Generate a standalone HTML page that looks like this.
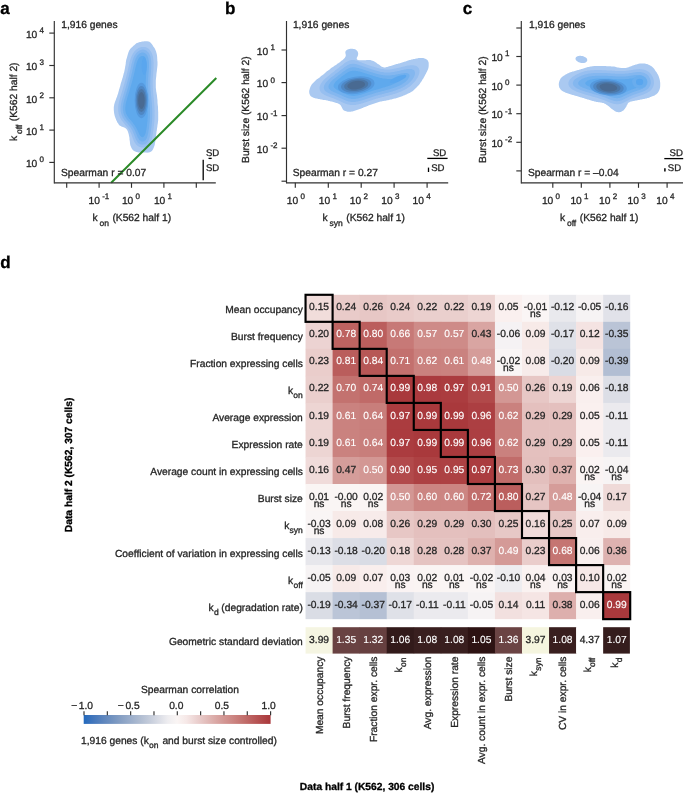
<!DOCTYPE html>
<html lang="en"><head><meta charset="utf-8"><title>Figure</title>
<style>html,body{margin:0;padding:0;background:#fff}svg{display:block;text-rendering:geometricPrecision}text{stroke-width:.3px}text[fill="#fff"]{stroke-width:.14px}</style></head>
<body>
<svg width="685" height="794" viewBox="0 0 685 794" font-family='"Liberation Sans", sans-serif'>
<rect width="685" height="794" fill="#fff"/>
<defs><filter id="bl" x="-5%" y="-5%" width="110%" height="110%"><feGaussianBlur stdDeviation="0.55"/></filter></defs>
<text x="0.20" y="14.00" font-size="17" text-anchor="start" fill="#000" stroke="#000" font-weight="bold">a</text>
<text x="224.90" y="14.00" font-size="17" text-anchor="start" fill="#000" stroke="#000" font-weight="bold">b</text>
<text x="462.80" y="13.80" font-size="17" text-anchor="start" fill="#000" stroke="#000" font-weight="bold">c</text>
<text x="0.20" y="268.20" font-size="17" text-anchor="start" fill="#000" stroke="#000" font-weight="bold">d</text>
<g filter="url(#bl)"><path d="M143.4,41.4 144.4,41.3 145.4,41.3 146.4,41.3 147.4,41.3 148.1,41.4 149.1,41.6 149.6,41.9 150.4,42.4 150.9,42.9 151.3,43.4 151.7,43.9 152.1,44.5 152.5,45.1 152.9,45.7 153.3,46.4 153.7,46.9 154.1,47.6 154.5,48.1 154.9,48.8 155.2,49.4 155.5,50.1 155.8,50.9 156.1,51.6 156.3,52.4 156.5,53.1 156.7,53.9 156.9,54.8 157.0,55.6 157.1,56.4 157.2,57.4 157.2,58.4 157.3,59.4 157.3,60.4 157.4,61.1 157.5,62.1 157.5,63.1 157.5,64.1 157.5,65.1 157.4,66.0 157.3,66.9 157.2,67.9 157.1,68.6 157.0,69.6 156.9,70.4 156.8,71.4 156.6,72.4 156.6,73.1 156.4,74.1 156.4,74.9 156.3,75.9 156.2,76.9 156.1,77.6 156.0,78.6 155.9,79.5 155.8,80.4 155.8,81.4 155.8,82.4 155.8,83.4 155.8,84.4 155.8,85.4 155.8,86.4 155.8,87.4 155.9,88.4 156.0,89.1 156.1,90.1 156.2,90.9 156.3,91.9 156.5,92.6 156.6,93.4 156.8,94.4 156.9,95.1 157.0,96.1 157.1,97.1 157.2,97.9 157.3,98.9 157.4,99.6 157.5,100.6 157.5,101.6 157.5,102.6 157.6,103.6 157.7,104.4 157.8,105.4 157.9,106.1 158.0,107.1 158.0,108.1 158.0,109.1 158.1,110.1 158.1,110.9 158.2,111.9 158.2,112.9 158.2,113.9 158.2,114.9 158.2,115.9 158.2,116.9 158.2,117.9 158.2,118.9 158.2,119.9 158.1,120.9 158.0,121.6 157.9,122.6 157.8,123.4 157.6,124.4 157.5,125.1 157.4,126.1 157.3,126.9 157.1,127.9 157.0,128.6 156.9,129.6 156.8,130.4 156.6,131.3 156.5,132.1 156.4,133.0 156.3,133.9 156.1,134.8 156.0,135.6 156.0,136.6 155.9,137.6 155.8,138.4 155.6,139.4 155.5,140.1 155.4,141.0 155.2,141.9 155.1,142.6 154.9,143.6 154.8,144.4 154.6,145.1 154.4,145.9 154.1,146.6 153.8,147.4 153.5,148.1 153.2,148.9 152.9,149.6 152.5,150.1 152.1,150.7 151.6,151.2 151.0,151.6 150.4,152.0 149.6,152.3 148.9,152.5 147.9,152.6 147.1,152.7 146.1,152.6 145.4,152.6 144.4,152.5 143.4,152.5 142.4,152.5 141.4,152.5 140.4,152.5 139.4,152.5 138.4,152.4 137.6,152.2 136.9,152.1 136.1,151.9 135.4,151.6 134.6,151.2 134.1,150.9 133.4,150.4 132.9,149.9 132.4,149.4 132.1,148.9 131.6,148.2 131.3,147.6 131.0,146.9 130.7,146.1 130.4,145.4 130.2,144.6 130.1,143.9 130.0,142.9 129.9,141.9 129.8,141.1 129.6,140.1 129.5,139.4 129.5,138.4 129.4,137.6 129.2,136.6 129.0,135.9 128.9,135.1 128.6,134.1 128.5,133.4 128.2,132.6 128.0,131.9 127.7,131.1 127.4,130.4 127.1,129.9 126.6,129.3 126.1,128.7 125.6,128.3 125.0,127.9 124.4,127.6 123.6,127.3 122.9,127.0 122.1,126.7 121.4,126.4 120.7,126.1 120.1,125.8 119.6,125.4 119.1,124.9 118.6,124.3 118.2,123.6 117.8,123.1 117.4,122.4 117.1,121.9 116.8,121.1 116.4,120.4 116.1,119.7 115.9,119.1 115.6,118.4 115.3,117.6 115.0,116.9 114.8,116.1 114.6,115.4 114.4,114.5 114.2,113.6 114.1,112.9 114.0,111.9 113.9,110.9 113.8,110.1 113.8,109.1 113.8,108.1 113.8,107.1 113.9,106.4 114.1,105.4 114.2,104.6 114.4,103.9 114.6,103.0 114.9,102.2 115.1,101.6 115.4,100.9 115.7,100.1 116.0,99.4 116.2,98.6 116.5,97.9 116.8,97.1 117.1,96.4 117.3,95.6 117.6,94.9 117.8,94.1 118.1,93.4 118.3,92.6 118.5,91.9 118.7,91.1 118.9,90.4 119.1,89.5 119.4,88.8 119.6,88.0 119.9,87.1 120.1,86.4 120.3,85.6 120.5,84.9 120.6,84.1 120.9,83.3 121.1,82.5 121.4,81.7 121.6,80.9 121.9,80.1 122.1,79.4 122.3,78.6 122.6,77.9 122.8,77.1 123.0,76.4 123.2,75.6 123.4,74.8 123.6,73.9 123.8,73.1 124.1,72.4 124.3,71.6 124.4,70.9 124.6,69.9 124.8,69.1 124.9,68.4 125.1,67.4 125.2,66.6 125.4,65.7 125.5,64.9 125.7,64.1 125.8,63.1 125.8,62.1 126.0,61.4 126.1,60.5 126.3,59.6 126.5,58.9 126.8,58.1 127.0,57.4 127.2,56.6 127.4,55.9 127.6,55.0 127.9,54.2 128.1,53.4 128.4,52.6 128.6,51.9 128.9,51.3 129.2,50.6 129.6,49.9 129.9,49.4 130.4,48.8 130.9,48.3 131.4,47.8 131.9,47.3 132.4,46.9 132.9,46.3 133.4,45.8 133.9,45.4 134.5,44.9 135.0,44.4 135.6,43.9 136.1,43.5 136.8,43.1 137.4,42.9 138.1,42.6 138.9,42.4 139.7,42.1 140.6,41.9 141.4,41.7 142.1,41.6Z" fill="#aac9f1"/>
<path d="M142.7,46.9 143.6,46.9 144.4,46.9 145.3,47.1 146.1,47.4 146.7,47.6 147.4,48.0 148.0,48.4 148.6,48.8 149.1,49.3 149.6,49.8 150.1,50.4 150.5,50.9 150.9,51.5 151.2,52.1 151.6,52.9 151.9,53.4 152.1,54.1 152.4,54.9 152.6,55.6 152.9,56.6 153.1,57.4 153.2,58.1 153.3,59.1 153.4,59.9 153.5,60.9 153.6,61.9 153.6,62.7 153.6,63.6 153.6,64.6 153.6,65.6 153.6,66.4 153.6,67.4 153.5,68.4 153.5,69.4 153.4,70.4 153.3,71.1 153.3,72.1 153.2,73.1 153.1,74.0 153.1,74.9 153.0,75.9 152.9,76.9 152.9,77.6 152.8,78.6 152.8,79.6 152.7,80.6 152.7,81.6 152.7,82.6 152.7,83.6 152.7,84.6 152.7,85.6 152.8,86.6 152.8,87.6 152.9,88.6 152.9,89.4 153.0,90.4 153.1,91.4 153.1,92.1 153.2,93.1 153.3,94.1 153.4,94.9 153.5,95.9 153.6,96.9 153.7,97.6 153.8,98.6 153.8,99.6 153.9,100.4 154.0,101.4 154.1,102.4 154.2,103.1 154.2,104.1 154.3,105.1 154.4,106.1 154.4,106.9 154.5,107.9 154.5,108.9 154.6,109.9 154.6,110.9 154.6,111.9 154.6,112.6 154.6,113.6 154.6,114.6 154.6,115.6 154.6,116.4 154.6,117.4 154.5,118.4 154.5,119.4 154.4,120.4 154.4,121.2 154.3,122.1 154.2,123.1 154.1,124.0 154.0,124.9 153.9,125.9 153.8,126.6 153.7,127.6 153.6,128.4 153.5,129.4 153.4,130.2 153.2,131.1 153.1,132.0 153.0,132.9 152.9,133.6 152.7,134.6 152.6,135.4 152.4,136.4 152.2,137.1 152.1,137.9 151.9,138.6 151.6,139.5 151.4,140.2 151.1,140.9 150.8,141.6 150.5,142.4 150.1,143.0 149.8,143.6 149.4,144.2 148.9,144.8 148.4,145.3 147.9,145.7 147.3,146.1 146.6,146.6 146.0,146.9 145.3,147.1 144.4,147.4 143.6,147.5 142.6,147.5 141.6,147.5 140.9,147.3 140.1,147.1 139.4,146.9 138.6,146.5 138.0,146.1 137.4,145.7 136.9,145.3 136.4,144.8 135.9,144.2 135.4,143.6 135.1,143.1 134.6,142.4 134.3,141.9 134.0,141.1 133.6,140.4 133.4,139.8 133.1,139.1 132.8,138.4 132.6,137.6 132.3,136.9 132.0,136.1 131.8,135.4 131.5,134.6 131.2,133.9 130.9,133.2 130.6,132.6 130.2,131.9 129.9,131.2 129.6,130.6 129.1,129.9 128.8,129.4 128.4,128.7 127.9,128.1 127.6,127.6 127.1,127.0 126.6,126.4 126.2,125.9 125.7,125.4 125.3,124.9 124.9,124.4 124.4,123.8 123.9,123.2 123.4,122.6 123.0,122.1 122.6,121.6 122.1,121.0 121.7,120.4 121.4,119.9 120.9,119.1 120.6,118.6 120.2,117.9 119.9,117.2 119.6,116.6 119.4,115.9 119.1,115.1 118.9,114.4 118.6,113.4 118.5,112.6 118.4,111.9 118.2,110.9 118.2,109.9 118.2,108.9 118.2,107.9 118.2,106.9 118.3,105.9 118.4,105.1 118.6,104.1 118.7,103.4 118.9,102.6 119.1,101.6 119.3,100.9 119.5,100.1 119.7,99.4 119.9,98.6 120.1,97.8 120.4,97.0 120.6,96.1 120.9,95.4 121.1,94.6 121.3,93.9 121.5,93.1 121.8,92.4 122.0,91.6 122.2,90.9 122.4,90.1 122.7,89.4 122.9,88.6 123.1,87.8 123.4,87.0 123.6,86.1 123.8,85.4 124.1,84.6 124.3,83.9 124.5,83.1 124.7,82.4 124.9,81.6 125.1,80.9 125.4,79.9 125.6,79.1 125.8,78.4 126.0,77.6 126.2,76.9 126.4,76.1 126.6,75.2 126.8,74.4 127.0,73.6 127.2,72.9 127.4,72.1 127.6,71.1 127.8,70.4 127.9,69.6 128.1,68.7 128.3,67.9 128.5,67.1 128.6,66.4 128.9,65.4 129.0,64.6 129.2,63.9 129.4,63.1 129.6,62.1 129.8,61.4 130.0,60.6 130.2,59.9 130.5,59.1 130.7,58.4 131.0,57.6 131.3,56.9 131.6,56.1 131.9,55.5 132.2,54.9 132.6,54.1 132.9,53.6 133.4,52.9 133.7,52.4 134.1,51.8 134.6,51.2 135.1,50.7 135.6,50.2 136.1,49.7 136.6,49.3 137.2,48.9 137.9,48.4 138.4,48.1 139.1,47.8 139.9,47.5 140.6,47.2 141.4,47.0Z" fill="#97bff0"/>
<path d="M142.6,49.6 143.3,49.6 144.1,49.7 144.9,49.9 145.6,50.2 146.4,50.6 146.9,50.9 147.4,51.4 147.9,51.9 148.4,52.4 148.9,53.1 149.2,53.6 149.5,54.4 149.9,55.1 150.1,55.8 150.4,56.6 150.6,57.4 150.7,58.1 150.9,58.9 151.0,59.9 151.1,60.8 151.2,61.6 151.2,62.6 151.3,63.6 151.3,64.6 151.3,65.6 151.2,66.6 151.2,67.6 151.2,68.6 151.1,69.4 151.0,70.4 151.0,71.4 150.9,72.4 150.8,73.1 150.8,74.1 150.7,75.1 150.6,75.9 150.6,76.9 150.5,77.9 150.4,78.9 150.4,79.9 150.4,80.8 150.4,81.6 150.3,82.6 150.3,83.6 150.3,84.6 150.4,85.6 150.4,86.4 150.4,87.4 150.5,88.4 150.5,89.4 150.6,90.4 150.7,91.1 150.8,92.1 150.9,93.1 150.9,93.9 151.0,94.9 151.1,95.9 151.2,96.6 151.3,97.6 151.4,98.5 151.5,99.4 151.6,100.4 151.6,101.1 151.7,102.1 151.8,103.1 151.9,104.1 151.9,104.9 152.0,105.9 152.1,106.9 152.1,107.9 152.2,108.6 152.2,109.6 152.2,110.6 152.3,111.6 152.3,112.6 152.3,113.6 152.3,114.6 152.3,115.6 152.3,116.6 152.2,117.6 152.2,118.6 152.1,119.6 152.1,120.4 152.0,121.4 151.9,122.4 151.8,123.1 151.7,124.1 151.6,125.1 151.6,125.9 151.4,126.9 151.3,127.6 151.2,128.6 151.1,129.4 151.0,130.4 150.9,131.1 150.7,132.1 150.6,132.9 150.4,133.9 150.3,134.6 150.1,135.4 149.9,136.4 149.7,137.1 149.5,137.9 149.3,138.6 149.0,139.4 148.7,140.1 148.4,140.8 148.0,141.4 147.6,142.0 147.1,142.6 146.6,143.1 146.1,143.5 145.6,143.9 144.9,144.2 144.1,144.5 143.4,144.6 142.4,144.7 141.6,144.6 140.8,144.4 140.1,144.1 139.4,143.7 138.9,143.4 138.3,142.9 137.8,142.4 137.4,141.8 136.9,141.1 136.6,140.6 136.2,139.9 135.9,139.3 135.6,138.6 135.3,137.9 135.0,137.1 134.7,136.4 134.4,135.6 134.1,134.9 133.9,134.2 133.6,133.5 133.3,132.9 133.0,132.1 132.7,131.4 132.4,130.8 132.1,130.1 131.6,129.4 131.3,128.9 130.9,128.1 130.5,127.6 130.1,127.0 129.6,126.4 129.3,125.9 128.9,125.4 128.4,124.8 127.9,124.2 127.4,123.6 127.0,123.1 126.5,122.6 126.1,122.1 125.6,121.6 125.1,120.9 124.7,120.4 124.3,119.9 123.9,119.3 123.4,118.6 123.1,118.1 122.7,117.4 122.4,116.8 122.1,116.1 121.8,115.4 121.5,114.6 121.3,113.9 121.1,113.1 120.9,112.3 120.7,111.4 120.6,110.4 120.6,109.6 120.6,108.6 120.6,107.6 120.6,106.9 120.7,105.9 120.9,104.9 121.0,104.1 121.1,103.4 121.4,102.4 121.5,101.6 121.7,100.9 121.9,100.1 122.1,99.4 122.4,98.5 122.6,97.7 122.9,96.9 123.1,96.1 123.3,95.4 123.5,94.6 123.8,93.9 124.0,93.1 124.2,92.4 124.4,91.6 124.7,90.9 124.9,90.1 125.1,89.4 125.4,88.5 125.6,87.7 125.9,86.9 126.1,86.1 126.3,85.4 126.5,84.6 126.7,83.9 126.9,83.1 127.1,82.4 127.4,81.5 127.6,80.6 127.8,79.9 128.0,79.1 128.2,78.4 128.4,77.6 128.6,76.9 128.9,75.9 129.1,75.1 129.3,74.4 129.4,73.6 129.6,72.8 129.8,71.9 130.0,71.1 130.2,70.4 130.4,69.5 130.6,68.6 130.7,67.9 130.9,67.1 131.1,66.1 131.3,65.4 131.4,64.6 131.6,63.8 131.9,62.9 132.1,62.1 132.3,61.4 132.5,60.6 132.7,59.9 133.0,59.1 133.3,58.4 133.6,57.6 133.9,56.9 134.1,56.4 134.5,55.6 134.9,55.0 135.3,54.4 135.7,53.9 136.1,53.3 136.6,52.7 137.1,52.2 137.6,51.8 138.1,51.4 138.8,50.9 139.4,50.6 140.1,50.2 140.9,49.9 141.6,49.8Z" fill="#84b7ef"/>
<path d="M141.6,52.6 142.4,52.5 143.4,52.5 144.1,52.7 144.9,53.0 145.4,53.4 146.0,53.9 146.5,54.4 146.9,54.9 147.3,55.6 147.6,56.2 147.9,56.9 148.1,57.6 148.4,58.5 148.6,59.4 148.7,60.1 148.8,61.1 148.9,61.9 148.9,62.9 149.0,63.9 149.0,64.9 149.0,65.9 149.0,66.9 148.9,67.9 148.9,68.6 148.8,69.6 148.7,70.6 148.7,71.6 148.6,72.4 148.5,73.4 148.5,74.4 148.4,75.4 148.3,76.1 148.3,77.1 148.2,78.1 148.2,79.1 148.1,80.1 148.1,80.9 148.1,81.9 148.1,82.9 148.1,83.9 148.1,84.9 148.1,85.9 148.1,86.6 148.2,87.6 148.2,88.6 148.3,89.6 148.4,90.6 148.4,91.4 148.5,92.4 148.6,93.4 148.7,94.1 148.8,95.1 148.9,96.1 148.9,96.9 149.0,97.9 149.1,98.8 149.2,99.6 149.3,100.6 149.4,101.4 149.5,102.4 149.5,103.4 149.6,104.4 149.7,105.1 149.7,106.1 149.8,107.1 149.9,108.1 149.9,108.9 149.9,109.9 150.0,110.9 150.0,111.9 150.0,112.9 150.0,113.9 150.0,114.9 150.0,115.9 150.0,116.9 149.9,117.9 149.9,118.9 149.8,119.6 149.8,120.6 149.7,121.6 149.6,122.5 149.5,123.4 149.4,124.4 149.3,125.1 149.2,126.1 149.1,127.0 149.0,127.9 148.9,128.8 148.8,129.6 148.6,130.5 148.5,131.4 148.4,132.1 148.2,133.1 148.0,133.9 147.9,134.6 147.6,135.6 147.4,136.4 147.2,137.1 146.9,137.9 146.6,138.4 146.2,139.1 145.9,139.6 145.4,140.2 144.9,140.7 144.2,141.1 143.5,141.4 142.6,141.5 141.6,141.4 140.9,141.1 140.4,140.8 139.8,140.4 139.3,139.9 138.9,139.3 138.4,138.6 138.1,138.1 137.7,137.4 137.4,136.6 137.1,136.0 136.9,135.4 136.6,134.6 136.3,133.9 136.0,133.1 135.7,132.4 135.4,131.7 135.1,131.1 134.8,130.4 134.4,129.6 134.1,129.1 133.7,128.4 133.4,127.7 133.0,127.1 132.6,126.6 132.2,125.9 131.8,125.4 131.4,124.8 130.9,124.2 130.4,123.6 130.0,123.1 129.6,122.6 129.1,122.1 128.6,121.5 128.1,120.9 127.7,120.4 127.2,119.9 126.8,119.4 126.4,118.8 125.9,118.1 125.6,117.6 125.1,116.9 124.8,116.4 124.4,115.6 124.1,114.9 123.9,114.3 123.6,113.6 123.4,112.7 123.2,111.9 123.1,111.1 122.9,110.1 122.9,109.1 122.9,108.1 122.9,107.1 123.0,106.1 123.1,105.4 123.3,104.4 123.4,103.6 123.6,102.7 123.8,101.9 124.0,101.1 124.2,100.4 124.4,99.6 124.6,98.9 124.9,98.1 125.1,97.2 125.4,96.4 125.6,95.6 125.8,94.9 126.1,94.1 126.3,93.4 126.5,92.6 126.7,91.9 127.0,91.1 127.2,90.4 127.4,89.6 127.6,88.9 127.9,88.0 128.1,87.2 128.4,86.4 128.6,85.6 128.8,84.9 129.0,84.1 129.2,83.4 129.4,82.6 129.6,81.9 129.9,81.0 130.1,80.1 130.3,79.4 130.5,78.6 130.7,77.9 130.9,77.1 131.1,76.3 131.3,75.4 131.5,74.6 131.7,73.9 131.9,73.1 132.1,72.1 132.3,71.4 132.4,70.6 132.6,69.8 132.8,68.9 133.0,68.1 133.2,67.4 133.4,66.4 133.6,65.6 133.7,64.9 133.9,64.1 134.1,63.3 134.4,62.4 134.6,61.6 134.8,60.9 135.1,60.1 135.4,59.4 135.6,58.8 135.9,58.1 136.3,57.4 136.6,56.8 137.1,56.1 137.4,55.6 137.9,55.1 138.4,54.5 138.9,54.1 139.4,53.6 140.1,53.2 140.8,52.9Z" fill="#71b0ee"/>
<path d="M142.2,55.9 142.9,55.9 143.6,56.1 144.3,56.6 144.8,57.1 145.2,57.6 145.5,58.4 145.8,59.1 146.1,59.9 146.2,60.6 146.4,61.4 146.5,62.4 146.6,63.4 146.6,64.4 146.6,65.4 146.6,66.4 146.6,67.4 146.5,68.4 146.5,69.4 146.4,70.4 146.4,71.1 146.3,72.1 146.2,73.1 146.1,74.1 146.1,74.9 146.0,75.9 146.0,76.9 145.9,77.9 145.9,78.6 145.8,79.6 145.8,80.6 145.8,81.6 145.7,82.6 145.7,83.6 145.8,84.6 145.8,85.6 145.8,86.6 145.9,87.6 145.9,88.4 146.0,89.4 146.0,90.4 146.1,91.4 146.2,92.1 146.3,93.1 146.3,94.1 146.4,94.9 146.5,95.9 146.6,96.9 146.7,97.6 146.8,98.6 146.9,99.4 147.0,100.4 147.1,101.4 147.1,102.2 147.2,103.1 147.3,104.1 147.4,105.1 147.4,105.9 147.5,106.9 147.5,107.9 147.6,108.9 147.6,109.8 147.7,110.6 147.7,111.6 147.7,112.6 147.7,113.6 147.7,114.6 147.7,115.6 147.7,116.6 147.6,117.6 147.6,118.4 147.5,119.4 147.5,120.4 147.4,121.4 147.3,122.1 147.2,123.1 147.1,124.0 147.0,124.9 146.9,125.9 146.8,126.6 146.6,127.6 146.5,128.4 146.4,129.2 146.2,130.1 146.1,130.9 145.9,131.8 145.7,132.6 145.5,133.4 145.2,134.1 144.9,134.9 144.6,135.5 144.2,136.1 143.8,136.6 143.1,137.1 142.4,137.2 141.6,137.0 141.0,136.6 140.5,136.1 140.1,135.6 139.6,134.9 139.4,134.4 139.0,133.6 138.6,132.9 138.4,132.3 138.1,131.6 137.7,130.9 137.4,130.1 137.1,129.6 136.8,128.9 136.4,128.2 136.1,127.6 135.6,126.9 135.3,126.4 134.9,125.6 134.5,125.1 134.1,124.6 133.6,123.9 133.2,123.4 132.9,122.9 132.4,122.3 131.9,121.7 131.4,121.1 131.0,120.6 130.5,120.1 130.1,119.6 129.6,119.1 129.1,118.4 128.7,117.9 128.3,117.4 127.9,116.8 127.5,116.1 127.1,115.6 126.8,114.9 126.4,114.1 126.1,113.4 125.9,112.7 125.6,111.9 125.5,111.1 125.4,110.4 125.3,109.4 125.3,108.4 125.3,107.4 125.4,106.4 125.5,105.6 125.6,104.6 125.8,103.9 125.9,103.1 126.1,102.2 126.3,101.4 126.5,100.6 126.8,99.9 127.0,99.1 127.2,98.4 127.4,97.6 127.6,96.9 127.9,96.1 128.1,95.3 128.4,94.4 128.6,93.6 128.8,92.9 129.1,92.1 129.3,91.4 129.5,90.6 129.7,89.9 130.0,89.1 130.2,88.4 130.4,87.6 130.6,86.8 130.9,86.0 131.1,85.1 131.3,84.4 131.5,83.6 131.8,82.9 132.0,82.1 132.2,81.4 132.4,80.6 132.6,79.7 132.9,78.9 133.0,78.1 133.2,77.4 133.4,76.6 133.6,75.8 133.9,74.9 134.0,74.1 134.2,73.4 134.4,72.6 134.6,71.6 134.8,70.9 135.0,70.1 135.1,69.3 135.3,68.4 135.5,67.6 135.7,66.9 135.9,66.0 136.1,65.1 136.3,64.4 136.5,63.6 136.7,62.9 137.0,62.1 137.2,61.4 137.5,60.6 137.9,59.9 138.1,59.4 138.6,58.6 138.9,58.1 139.4,57.5 139.9,57.0 140.4,56.6 141.1,56.2Z" fill="#5fa9ed"/>
<ellipse cx="144.2" cy="66.0" rx="2.6" ry="9.0" transform="rotate(0 144.2 66.0)" fill="#5aa6ee"/>
<ellipse cx="141.4" cy="100.5" rx="6.76" ry="17.63" transform="rotate(0 141.4 100.5)" fill="#5499de"/>
<ellipse cx="141.4" cy="100.5" rx="5.61" ry="14.62" transform="rotate(0 141.4 100.5)" fill="#4f87c4"/>
<ellipse cx="141.4" cy="100.5" rx="4.46" ry="11.61" transform="rotate(0 141.4 100.5)" fill="#4c77a8"/>
<ellipse cx="141.4" cy="100.5" rx="3.30" ry="8.60" transform="rotate(0 141.4 100.5)" fill="#4a6b92"/></g>
<line x1="111.2" y1="182.8" x2="216.3" y2="78.0" stroke="#2a8a27" stroke-width="2"/>
<line x1="54.30" y1="21.00" x2="54.30" y2="183.40" stroke="#303030" stroke-width="1.15" stroke-linecap="butt"/>
<line x1="54.30" y1="182.80" x2="215.80" y2="182.80" stroke="#303030" stroke-width="1.15" stroke-linecap="butt"/>
<line x1="49.30" y1="33.10" x2="54.30" y2="33.10" stroke="#303030" stroke-width="1.15" stroke-linecap="butt"/>
<text x="25.90" y="37.80" font-size="10.25" fill="#262626" stroke="#262626">10<tspan font-size="8" dx="2.3" dy="-4.8">4</tspan></text>
<line x1="49.30" y1="65.50" x2="54.30" y2="65.50" stroke="#303030" stroke-width="1.15" stroke-linecap="butt"/>
<text x="25.90" y="70.20" font-size="10.25" fill="#262626" stroke="#262626">10<tspan font-size="8" dx="2.3" dy="-4.8">3</tspan></text>
<line x1="49.30" y1="97.80" x2="54.30" y2="97.80" stroke="#303030" stroke-width="1.15" stroke-linecap="butt"/>
<text x="25.90" y="102.50" font-size="10.25" fill="#262626" stroke="#262626">10<tspan font-size="8" dx="2.3" dy="-4.8">2</tspan></text>
<line x1="49.30" y1="130.10" x2="54.30" y2="130.10" stroke="#303030" stroke-width="1.15" stroke-linecap="butt"/>
<text x="25.90" y="134.80" font-size="10.25" fill="#262626" stroke="#262626">10<tspan font-size="8" dx="2.3" dy="-4.8">1</tspan></text>
<line x1="49.30" y1="162.40" x2="54.30" y2="162.40" stroke="#303030" stroke-width="1.15" stroke-linecap="butt"/>
<text x="25.90" y="167.10" font-size="10.25" fill="#262626" stroke="#262626">10<tspan font-size="8" dx="2.3" dy="-4.8">0</tspan></text>
<line x1="66.70" y1="182.80" x2="66.70" y2="187.80" stroke="#303030" stroke-width="1.15" stroke-linecap="butt"/>
<line x1="99.10" y1="182.80" x2="99.10" y2="187.80" stroke="#303030" stroke-width="1.15" stroke-linecap="butt"/>
<text x="88.50" y="203.70" font-size="10.25" fill="#262626" stroke="#262626">10<tspan font-size="8" dx="2.3" dy="-4.8">-1</tspan></text>
<line x1="131.50" y1="182.80" x2="131.50" y2="187.80" stroke="#303030" stroke-width="1.15" stroke-linecap="butt"/>
<text x="121.90" y="203.70" font-size="10.25" fill="#262626" stroke="#262626">10<tspan font-size="8" dx="2.3" dy="-4.8">0</tspan></text>
<line x1="163.90" y1="182.80" x2="163.90" y2="187.80" stroke="#303030" stroke-width="1.15" stroke-linecap="butt"/>
<text x="153.90" y="203.70" font-size="10.25" fill="#262626" stroke="#262626">10<tspan font-size="8" dx="2.3" dy="-4.8">1</tspan></text>
<line x1="196.30" y1="182.80" x2="196.30" y2="187.80" stroke="#303030" stroke-width="1.15" stroke-linecap="butt"/>
<text x="61.20" y="28.00" font-size="10.25" text-anchor="start" fill="#262626" stroke="#262626">1,916 genes</text>
<text x="61.00" y="175.70" font-size="10.25" text-anchor="start" fill="#262626" stroke="#262626">Spearman r = 0.07</text>
<text x="92.40" y="221.00" font-size="10.25" text-anchor="start" fill="#262626" stroke="#262626">k<tspan font-size="8.5" dx="1.9" dy="4.8">on</tspan><tspan dy="-4.8" dx="3.5">(K562 half 1)</tspan></text>
<text x="17.00" y="141.00" font-size="10.25" text-anchor="start" fill="#262626" stroke="#262626" transform="rotate(-90 17.00 141.00)">k<tspan font-size="8.5" dx="1.9" dy="4.8">off</tspan><tspan dy="-4.8" dx="3.5">(K562 half 2)</tspan></text>
<line x1="203.20" y1="159.80" x2="203.20" y2="180.20" stroke="#000" stroke-width="1.3" stroke-linecap="butt"/>
<text x="205.90" y="171.10" font-size="9.6" text-anchor="start" fill="#262626" stroke="#262626">SD</text>
<text x="205.90" y="155.80" font-size="9.6" text-anchor="start" fill="#262626" stroke="#262626">SD</text>
<line x1="208.50" y1="158.40" x2="211.70" y2="158.40" stroke="#000" stroke-width="1.3" stroke-linecap="butt"/>
<g filter="url(#bl)"><path d="M349.5,48.9 350.4,48.7 351.4,48.7 352.4,48.7 353.4,48.9 354.1,49.0 354.9,49.2 355.6,49.5 356.2,49.9 356.8,50.4 357.2,50.9 357.6,51.6 357.9,52.3 358.1,53.1 358.2,53.9 358.1,54.6 357.9,55.6 357.6,56.2 357.3,56.9 356.9,57.6 356.7,58.4 356.9,59.3 357.4,59.8 358.1,60.1 358.9,60.2 359.9,60.2 360.9,60.2 361.9,60.2 362.9,60.2 363.9,60.2 364.9,60.2 365.9,60.2 366.6,60.1 367.6,60.0 368.6,60.0 369.6,60.1 370.4,60.1 371.4,60.4 372.1,60.6 372.9,60.9 373.5,61.1 374.1,61.4 374.9,61.8 375.4,62.2 376.0,62.6 376.6,63.0 377.1,63.4 377.8,63.9 378.4,64.3 378.9,64.6 379.6,65.1 380.1,65.4 380.7,65.9 381.3,66.4 381.9,66.7 382.6,67.1 383.4,67.3 384.1,67.4 385.1,67.4 385.9,67.3 386.6,67.1 387.4,66.9 388.3,66.6 389.0,66.4 389.8,66.1 390.6,65.9 391.4,65.7 392.1,65.5 392.9,65.2 393.6,65.0 394.4,64.8 395.1,64.6 395.9,64.3 396.6,64.1 397.5,63.9 398.4,63.6 399.1,63.4 399.9,63.2 400.6,62.9 401.4,62.7 402.1,62.4 402.9,62.2 403.6,62.0 404.4,61.8 405.1,61.6 405.9,61.4 406.6,61.1 407.4,60.8 408.1,60.6 408.9,60.3 409.6,60.1 410.4,59.9 411.3,59.6 412.1,59.4 412.9,59.3 413.6,59.1 414.6,58.9 415.4,58.7 416.1,58.6 417.1,58.4 417.9,58.2 418.6,58.1 419.6,58.0 420.6,57.9 421.6,57.9 422.6,58.0 423.4,58.1 424.3,58.4 425.0,58.6 425.6,58.9 426.4,59.3 426.9,59.7 427.4,60.1 427.9,60.7 428.2,61.4 428.5,62.1 428.7,62.9 428.7,63.9 428.7,64.9 428.7,65.9 428.6,66.7 428.5,67.6 428.3,68.4 428.0,69.1 427.8,69.9 427.4,70.6 427.1,71.2 426.8,71.9 426.4,72.6 426.1,73.2 425.8,73.9 425.4,74.6 425.1,75.1 424.7,75.9 424.4,76.5 424.0,77.1 423.6,77.9 423.3,78.4 422.9,79.1 422.5,79.6 422.1,80.3 421.8,80.9 421.4,81.5 421.0,82.1 420.6,82.6 420.1,83.3 419.7,83.9 419.3,84.4 418.9,84.9 418.4,85.5 417.9,86.1 417.4,86.6 416.9,87.1 416.5,87.6 416.0,88.1 415.4,88.6 414.9,89.1 414.4,89.5 413.9,90.0 413.4,90.4 412.8,90.9 412.1,91.4 411.6,91.7 411.0,92.1 410.4,92.5 409.6,92.9 409.0,93.1 408.4,93.4 407.6,93.8 407.1,94.1 406.4,94.5 405.6,94.8 404.9,95.1 404.2,95.4 403.5,95.6 402.8,95.9 402.1,96.2 401.4,96.5 400.6,96.7 399.9,97.0 399.1,97.3 398.4,97.6 397.6,97.8 396.9,98.0 396.1,98.3 395.4,98.5 394.6,98.6 393.6,98.8 392.9,99.0 392.1,99.3 391.4,99.5 390.6,99.6 389.6,99.8 388.9,100.0 388.1,100.2 387.1,100.3 386.4,100.5 385.6,100.7 384.6,100.8 383.9,101.0 383.1,101.1 382.1,101.3 381.4,101.5 380.5,101.6 379.6,101.8 378.9,102.0 378.1,102.3 377.4,102.5 376.6,102.7 375.9,103.0 375.1,103.2 374.4,103.5 373.6,103.7 372.9,104.0 372.1,104.2 371.4,104.5 370.6,104.8 369.9,105.1 369.1,105.3 368.4,105.6 367.7,105.9 367.1,106.1 366.4,106.4 365.6,106.7 364.9,107.0 364.1,107.3 363.4,107.6 362.7,107.9 362.1,108.1 361.4,108.4 360.6,108.7 359.9,109.0 359.1,109.2 358.4,109.5 357.6,109.8 356.9,110.1 356.1,110.3 355.4,110.5 354.6,110.7 353.9,110.9 353.1,111.2 352.3,111.4 351.4,111.6 350.6,111.7 349.6,111.7 348.6,111.7 347.6,111.7 346.9,111.5 346.1,111.3 345.4,111.1 344.6,110.8 343.9,110.4 343.4,109.9 342.9,109.4 342.6,108.9 342.2,108.1 341.9,107.4 341.6,106.9 341.1,106.1 340.8,105.6 340.4,105.1 339.8,104.6 339.1,104.1 338.6,103.8 337.9,103.5 337.1,103.1 336.4,102.9 335.6,102.7 334.9,102.5 334.1,102.3 333.4,102.0 332.6,101.8 331.7,101.6 330.9,101.4 330.1,101.3 329.4,101.1 328.6,100.9 327.8,100.6 326.9,100.4 326.1,100.3 325.1,100.1 324.4,100.0 323.4,99.9 322.6,99.8 321.6,99.6 320.9,99.5 320.1,99.3 319.2,99.1 318.4,99.0 317.6,98.8 316.8,98.6 315.9,98.4 315.1,98.2 314.4,98.0 313.6,97.8 312.9,97.5 312.2,97.1 311.6,96.8 311.1,96.4 310.6,95.9 310.1,95.2 309.8,94.6 309.5,93.9 309.3,93.1 309.2,92.1 309.2,91.1 309.4,90.1 309.6,89.4 309.8,88.6 310.1,87.9 310.3,87.1 310.6,86.4 310.9,85.9 311.4,85.1 311.7,84.6 312.1,84.1 312.6,83.5 313.1,82.9 313.6,82.4 314.1,81.9 314.6,81.4 315.1,80.9 315.6,80.4 316.1,80.0 316.6,79.6 317.2,79.1 317.9,78.7 318.4,78.3 319.0,77.9 319.6,77.4 320.1,77.0 320.6,76.6 321.2,76.1 321.8,75.6 322.4,75.2 322.9,74.8 323.4,74.4 324.0,73.9 324.5,73.4 325.0,72.9 325.6,72.4 326.1,72.0 326.6,71.6 327.3,71.1 327.9,70.7 328.4,70.3 329.0,69.9 329.6,69.4 330.1,69.0 330.6,68.6 331.2,68.1 331.9,67.6 332.4,67.3 332.9,66.9 333.6,66.4 334.1,66.1 334.9,65.6 335.4,65.3 336.0,64.9 336.6,64.4 337.1,64.0 337.7,63.6 338.4,63.2 338.9,62.8 339.5,62.4 340.1,61.9 340.6,61.5 341.1,61.1 341.8,60.6 342.4,60.2 342.9,59.8 343.4,59.3 343.9,58.8 344.4,58.3 344.9,57.7 345.2,57.1 345.6,56.4 345.8,55.6 345.7,54.6 345.6,53.9 345.4,52.9 345.3,52.1 345.5,51.4 345.9,50.7 346.4,50.2 346.9,49.9 347.6,49.5 348.4,49.2Z" fill="#aac9f1"/>
<path d="M351.2,60.1 352.1,60.0 353.1,60.0 353.9,60.1 354.9,60.3 355.6,60.4 356.4,60.6 357.1,60.9 357.9,61.1 358.6,61.4 359.4,61.7 360.1,62.0 360.9,62.3 361.6,62.6 362.4,62.9 363.1,63.1 363.8,63.4 364.4,63.6 365.1,63.9 365.9,64.1 366.6,64.4 367.4,64.7 368.1,64.9 368.9,65.2 369.6,65.4 370.4,65.7 371.1,65.9 371.9,66.2 372.6,66.4 373.4,66.6 374.1,66.9 374.9,67.1 375.7,67.4 376.5,67.6 377.3,67.9 378.1,68.1 378.9,68.3 379.6,68.5 380.4,68.7 381.4,68.9 382.1,69.0 382.9,69.1 383.9,69.3 384.9,69.4 385.6,69.4 386.6,69.4 387.6,69.4 388.6,69.4 389.5,69.4 390.4,69.3 391.4,69.2 392.1,69.1 393.1,69.0 393.9,68.8 394.9,68.6 395.6,68.5 396.4,68.3 397.3,68.1 398.1,67.9 398.9,67.7 399.6,67.6 400.4,67.4 401.3,67.1 402.1,66.9 402.9,66.7 403.6,66.5 404.4,66.4 405.4,66.1 406.1,66.0 406.9,65.8 407.9,65.6 408.6,65.5 409.6,65.4 410.4,65.3 411.4,65.2 412.4,65.2 413.4,65.3 414.1,65.4 415.1,65.6 415.9,65.9 416.5,66.1 417.1,66.5 417.6,66.9 418.1,67.4 418.6,68.1 418.9,68.6 419.2,69.4 419.4,70.1 419.5,71.1 419.4,72.1 419.3,72.9 419.1,73.8 418.9,74.6 418.6,75.3 418.4,75.9 418.0,76.6 417.7,77.4 417.4,77.9 416.9,78.6 416.6,79.1 416.1,79.8 415.7,80.4 415.4,80.9 414.9,81.5 414.4,82.1 413.9,82.6 413.4,83.1 412.9,83.6 412.4,84.1 411.9,84.6 411.4,85.1 410.9,85.5 410.4,85.9 409.8,86.4 409.2,86.9 408.6,87.3 408.1,87.6 407.4,88.1 406.9,88.4 406.2,88.9 405.6,89.2 404.9,89.6 404.4,89.9 403.6,90.3 402.9,90.6 402.4,90.9 401.6,91.2 400.9,91.5 400.1,91.9 399.5,92.1 398.8,92.4 398.1,92.6 397.4,92.9 396.6,93.2 395.9,93.4 395.1,93.7 394.4,93.9 393.6,94.1 392.8,94.4 392.0,94.6 391.1,94.9 390.4,95.1 389.6,95.3 388.9,95.5 388.1,95.7 387.3,95.9 386.4,96.1 385.6,96.3 384.9,96.5 384.1,96.7 383.4,96.9 382.4,97.1 381.6,97.3 380.9,97.5 380.1,97.7 379.4,97.9 378.6,98.1 377.7,98.4 376.9,98.6 376.1,98.8 375.4,99.1 374.6,99.3 373.9,99.5 373.1,99.7 372.4,100.0 371.6,100.2 370.9,100.5 370.1,100.7 369.4,101.0 368.6,101.2 367.9,101.5 367.1,101.7 366.4,102.0 365.6,102.2 364.9,102.5 364.1,102.7 363.4,103.0 362.6,103.2 361.9,103.4 361.1,103.6 360.3,103.9 359.4,104.1 358.6,104.3 357.9,104.5 357.1,104.6 356.1,104.8 355.4,104.9 354.4,105.0 353.4,105.0 352.4,105.0 351.4,105.0 350.4,104.9 349.6,104.8 348.8,104.6 347.9,104.4 347.1,104.2 346.4,104.0 345.6,103.7 344.9,103.4 344.1,103.1 343.5,102.9 342.9,102.6 342.1,102.2 341.4,101.9 340.8,101.6 340.1,101.3 339.4,101.0 338.7,100.6 338.1,100.4 337.4,100.0 336.6,99.7 335.9,99.4 335.2,99.1 334.6,98.9 333.9,98.6 333.1,98.3 332.4,98.0 331.6,97.7 330.9,97.5 330.1,97.2 329.4,96.9 328.6,96.6 327.9,96.4 327.3,96.1 326.6,95.9 325.9,95.5 325.1,95.2 324.5,94.9 323.9,94.5 323.2,94.1 322.6,93.7 322.1,93.3 321.6,92.9 321.1,92.4 320.6,91.7 320.2,91.1 319.9,90.4 319.7,89.6 319.5,88.9 319.5,87.9 319.6,86.9 319.8,86.1 320.1,85.4 320.4,84.7 320.6,84.1 321.1,83.4 321.4,82.9 321.9,82.3 322.4,81.6 322.8,81.1 323.3,80.6 323.7,80.1 324.2,79.6 324.7,79.1 325.3,78.6 325.8,78.1 326.4,77.6 326.9,77.2 327.4,76.7 327.9,76.3 328.4,75.9 329.0,75.4 329.6,74.9 330.1,74.5 330.6,74.1 331.2,73.6 331.9,73.1 332.4,72.7 332.9,72.3 333.5,71.9 334.1,71.4 334.6,71.0 335.1,70.6 335.7,70.1 336.4,69.6 336.9,69.2 337.4,68.8 338.0,68.4 338.6,67.9 339.1,67.5 339.6,67.1 340.2,66.6 340.8,66.1 341.4,65.7 341.9,65.3 342.4,64.9 343.0,64.4 343.6,63.9 344.1,63.5 344.7,63.1 345.4,62.6 345.9,62.3 346.6,61.9 347.1,61.6 347.9,61.2 348.5,60.9 349.2,60.6 350.0,60.4Z" fill="#97bff0"/>
<path d="M351.2,63.9 352.1,63.8 353.1,63.7 354.1,63.8 354.9,63.9 355.9,64.1 356.6,64.3 357.4,64.5 358.1,64.7 358.9,65.0 359.6,65.2 360.4,65.5 361.1,65.7 361.9,66.0 362.6,66.2 363.4,66.5 364.1,66.8 364.9,67.0 365.6,67.3 366.4,67.5 367.1,67.7 367.9,68.0 368.6,68.2 369.4,68.5 370.1,68.7 370.9,69.0 371.6,69.2 372.4,69.5 373.1,69.7 373.9,69.9 374.6,70.2 375.4,70.4 376.1,70.6 376.9,70.9 377.8,71.1 378.6,71.3 379.4,71.5 380.1,71.7 381.0,71.9 381.9,72.0 382.6,72.1 383.6,72.3 384.6,72.4 385.4,72.4 386.4,72.5 387.4,72.5 388.4,72.5 389.4,72.4 390.1,72.4 391.1,72.3 392.1,72.2 392.9,72.0 393.9,71.9 394.6,71.8 395.4,71.6 396.4,71.4 397.1,71.3 397.9,71.1 398.8,70.9 399.6,70.7 400.4,70.5 401.1,70.3 402.0,70.1 402.9,69.9 403.6,69.8 404.4,69.6 405.4,69.4 406.1,69.3 407.1,69.1 407.9,69.0 408.9,69.0 409.9,68.9 410.9,69.0 411.6,69.1 412.5,69.4 413.1,69.7 413.8,70.1 414.3,70.6 414.6,71.2 414.9,71.9 415.0,72.9 415.0,73.9 414.8,74.6 414.6,75.4 414.3,76.1 414.0,76.9 413.6,77.5 413.3,78.1 412.9,78.7 412.4,79.4 412.0,79.9 411.6,80.4 411.1,80.9 410.6,81.5 410.1,82.0 409.6,82.5 409.1,82.9 408.6,83.4 408.0,83.9 407.4,84.4 406.9,84.7 406.3,85.1 405.6,85.6 405.1,85.9 404.4,86.4 403.9,86.7 403.1,87.1 402.6,87.4 401.9,87.8 401.1,88.1 400.6,88.4 399.9,88.7 399.1,89.0 398.4,89.3 397.6,89.6 397.0,89.9 396.3,90.1 395.6,90.4 394.9,90.6 394.1,90.9 393.3,91.1 392.5,91.4 391.7,91.6 390.9,91.9 390.1,92.1 389.4,92.3 388.6,92.5 387.9,92.7 387.1,92.9 386.2,93.1 385.4,93.3 384.6,93.5 383.9,93.7 383.1,93.9 382.3,94.1 381.4,94.4 380.6,94.5 379.9,94.7 379.1,94.9 378.4,95.1 377.5,95.4 376.7,95.6 375.9,95.8 375.1,96.1 374.4,96.3 373.6,96.5 372.9,96.7 372.1,97.0 371.4,97.2 370.6,97.5 369.9,97.7 369.1,97.9 368.4,98.2 367.6,98.4 366.9,98.7 366.1,98.9 365.4,99.2 364.6,99.4 363.9,99.7 363.1,99.9 362.4,100.2 361.6,100.4 360.9,100.6 360.0,100.9 359.1,101.1 358.4,101.3 357.6,101.4 356.6,101.6 355.9,101.7 354.9,101.9 354.1,101.9 353.1,101.9 352.1,101.9 351.4,101.9 350.4,101.7 349.6,101.6 348.6,101.4 347.9,101.2 347.1,101.0 346.4,100.7 345.6,100.4 344.9,100.1 344.2,99.9 343.6,99.6 342.9,99.3 342.1,98.9 341.5,98.6 340.9,98.4 340.1,98.0 339.4,97.7 338.7,97.4 338.1,97.1 337.4,96.8 336.6,96.5 335.9,96.2 335.2,95.9 334.6,95.6 333.9,95.3 333.1,95.1 332.4,94.8 331.6,94.5 330.9,94.2 330.2,93.9 329.6,93.6 328.9,93.3 328.1,92.9 327.6,92.6 326.9,92.2 326.4,91.8 325.8,91.4 325.3,90.9 324.8,90.4 324.4,89.7 324.1,89.1 323.9,88.2 323.8,87.4 323.9,86.6 324.1,85.7 324.4,85.1 324.7,84.4 325.1,83.7 325.5,83.1 325.9,82.6 326.4,82.0 326.9,81.5 327.4,80.9 327.9,80.4 328.4,80.0 328.9,79.5 329.4,79.0 329.9,78.6 330.4,78.1 331.0,77.6 331.6,77.1 332.1,76.7 332.6,76.3 333.2,75.9 333.8,75.4 334.4,74.9 334.9,74.5 335.4,74.1 336.0,73.6 336.6,73.2 337.1,72.8 337.7,72.4 338.3,71.9 338.9,71.4 339.4,71.0 339.9,70.6 340.6,70.1 341.1,69.7 341.6,69.3 342.2,68.9 342.8,68.4 343.4,68.0 343.9,67.6 344.5,67.1 345.1,66.7 345.6,66.4 346.4,65.9 346.9,65.6 347.6,65.2 348.2,64.9 348.9,64.6 349.6,64.3 350.4,64.1Z" fill="#84b7ef"/>
<path d="M351.5,67.4 352.4,67.3 353.4,67.2 354.4,67.3 355.4,67.4 356.1,67.5 356.9,67.7 357.7,67.9 358.6,68.1 359.4,68.4 360.1,68.6 360.9,68.8 361.6,69.1 362.4,69.3 363.1,69.5 363.9,69.8 364.6,70.0 365.4,70.2 366.1,70.5 366.9,70.7 367.6,70.9 368.4,71.2 369.1,71.4 369.9,71.7 370.6,71.9 371.4,72.2 372.1,72.4 372.9,72.6 373.6,72.9 374.4,73.1 375.2,73.4 376.0,73.6 376.9,73.9 377.6,74.1 378.4,74.3 379.1,74.5 379.9,74.6 380.9,74.8 381.6,75.0 382.6,75.1 383.4,75.2 384.4,75.3 385.1,75.4 386.1,75.4 387.1,75.5 388.1,75.5 389.1,75.4 390.1,75.4 390.9,75.3 391.9,75.2 392.6,75.1 393.6,75.0 394.4,74.9 395.4,74.7 396.1,74.6 397.1,74.4 397.9,74.2 398.6,74.1 399.6,73.9 400.4,73.8 401.1,73.6 402.1,73.4 402.9,73.3 403.9,73.2 404.6,73.1 405.6,73.1 406.6,73.1 407.4,73.2 408.1,73.5 408.8,73.9 409.2,74.4 409.5,75.1 409.5,76.1 409.3,76.9 408.9,77.6 408.6,78.2 408.2,78.9 407.8,79.4 407.4,79.9 406.9,80.4 406.4,80.9 405.9,81.4 405.3,81.9 404.7,82.4 404.1,82.8 403.6,83.2 402.9,83.6 402.4,84.0 401.7,84.4 401.1,84.7 400.4,85.1 399.8,85.4 399.1,85.7 398.4,86.1 397.7,86.4 397.1,86.6 396.4,86.9 395.6,87.2 394.9,87.5 394.1,87.7 393.4,88.0 392.6,88.2 391.9,88.5 391.1,88.7 390.4,88.9 389.6,89.2 388.9,89.4 388.0,89.6 387.1,89.9 386.4,90.1 385.6,90.3 384.9,90.5 384.1,90.7 383.3,90.9 382.4,91.1 381.6,91.3 380.9,91.5 380.1,91.7 379.4,91.9 378.6,92.1 377.7,92.4 376.9,92.6 376.1,92.8 375.4,93.0 374.6,93.2 373.9,93.5 373.1,93.7 372.4,93.9 371.6,94.2 370.9,94.4 370.1,94.6 369.4,94.9 368.6,95.1 367.8,95.4 367.1,95.6 366.3,95.9 365.6,96.1 364.8,96.4 364.1,96.6 363.3,96.9 362.5,97.1 361.7,97.4 360.9,97.6 360.1,97.9 359.4,98.1 358.6,98.2 357.9,98.4 356.9,98.6 356.1,98.7 355.1,98.9 354.4,98.9 353.4,99.0 352.4,98.9 351.6,98.9 350.6,98.7 349.9,98.6 348.9,98.4 348.1,98.2 347.4,97.9 346.6,97.7 345.9,97.4 345.2,97.1 344.6,96.9 343.9,96.5 343.1,96.2 342.4,95.9 341.9,95.6 341.1,95.3 340.4,94.9 339.7,94.6 339.1,94.4 338.4,94.0 337.6,93.7 336.9,93.4 336.3,93.1 335.6,92.8 334.9,92.5 334.1,92.2 333.5,91.9 332.9,91.6 332.1,91.2 331.6,90.9 330.9,90.4 330.4,90.0 329.9,89.6 329.4,89.1 328.9,88.4 328.6,87.7 328.5,86.9 328.5,85.9 328.8,85.1 329.1,84.4 329.4,83.9 329.9,83.2 330.3,82.6 330.7,82.1 331.2,81.6 331.6,81.1 332.2,80.6 332.7,80.1 333.2,79.6 333.8,79.1 334.4,78.6 334.9,78.2 335.4,77.8 335.9,77.4 336.5,76.9 337.1,76.4 337.6,76.0 338.1,75.6 338.8,75.1 339.4,74.7 339.9,74.3 340.4,73.9 341.1,73.4 341.6,72.9 342.1,72.6 342.7,72.1 343.4,71.6 343.9,71.3 344.4,70.9 345.1,70.4 345.6,70.0 346.3,69.6 346.9,69.3 347.5,68.9 348.1,68.6 348.9,68.2 349.6,67.9 350.4,67.6Z" fill="#71b0ee"/>
<path d="M351.6,70.9 352.4,70.7 353.4,70.7 354.4,70.7 355.4,70.7 356.3,70.9 357.1,71.0 357.9,71.2 358.6,71.4 359.6,71.6 360.4,71.8 361.1,72.1 361.9,72.3 362.6,72.5 363.4,72.7 364.1,72.9 364.9,73.2 365.6,73.4 366.4,73.6 367.1,73.9 367.9,74.1 368.7,74.4 369.5,74.6 370.2,74.9 371.0,75.1 371.8,75.4 372.5,75.6 373.3,75.9 374.0,76.1 374.8,76.4 375.6,76.6 376.4,76.9 377.1,77.1 377.9,77.3 378.6,77.5 379.4,77.7 380.2,77.9 381.1,78.1 381.9,78.2 382.8,78.4 383.6,78.5 384.5,78.6 385.4,78.7 386.4,78.8 387.4,78.9 388.1,78.9 389.1,78.9 390.1,78.9 391.1,78.9 391.9,78.9 392.9,78.8 393.9,78.8 394.9,78.7 395.9,78.7 396.9,78.7 397.9,78.8 398.6,79.0 399.2,79.4 399.1,80.3 398.7,80.9 398.2,81.4 397.6,81.8 397.1,82.2 396.4,82.6 395.9,82.9 395.1,83.3 394.5,83.6 393.9,83.9 393.1,84.3 392.4,84.6 391.7,84.9 391.0,85.1 390.3,85.4 389.6,85.6 388.9,85.9 388.1,86.1 387.4,86.4 386.6,86.6 385.8,86.9 385.0,87.1 384.2,87.4 383.4,87.6 382.6,87.8 381.9,88.1 381.1,88.3 380.4,88.5 379.6,88.7 378.9,88.9 378.1,89.2 377.4,89.4 376.5,89.6 375.7,89.9 374.9,90.1 374.1,90.3 373.4,90.6 372.6,90.8 371.9,91.0 371.1,91.3 370.4,91.5 369.6,91.7 368.9,92.0 368.1,92.2 367.4,92.5 366.6,92.7 365.9,93.0 365.1,93.2 364.4,93.5 363.6,93.7 362.9,94.0 362.1,94.2 361.4,94.4 360.6,94.7 359.9,94.9 359.0,95.1 358.1,95.3 357.4,95.5 356.6,95.6 355.6,95.8 354.6,95.9 353.9,95.9 352.9,95.9 352.1,95.8 351.1,95.7 350.4,95.6 349.4,95.4 348.6,95.2 347.9,94.9 347.1,94.7 346.4,94.4 345.8,94.1 345.1,93.8 344.4,93.5 343.6,93.2 343.0,92.9 342.4,92.6 341.6,92.2 340.9,91.9 340.4,91.6 339.6,91.3 338.9,90.9 338.4,90.6 337.6,90.2 337.0,89.9 336.4,89.5 335.8,89.1 335.2,88.6 334.6,88.1 334.2,87.6 333.9,87.1 333.6,86.3 333.6,85.4 333.8,84.6 334.1,83.9 334.4,83.4 334.9,82.8 335.4,82.1 335.8,81.6 336.3,81.1 336.8,80.6 337.4,80.1 337.9,79.7 338.4,79.3 338.9,78.8 339.4,78.4 340.0,77.9 340.6,77.4 341.1,77.0 341.6,76.6 342.3,76.1 342.9,75.7 343.4,75.3 344.0,74.9 344.6,74.4 345.1,74.1 345.8,73.6 346.4,73.2 346.9,72.9 347.6,72.5 348.3,72.1 348.9,71.8 349.6,71.5 350.4,71.2Z" fill="#5fa9ed"/>
<ellipse cx="398.0" cy="79.0" rx="9.0" ry="2.6" transform="rotate(-22 398.0 79.0)" fill="#5aa6ee"/>
<ellipse cx="356.2" cy="85.2" rx="18.45" ry="8.61" transform="rotate(-8 356.2 85.2)" fill="#5499de"/>
<ellipse cx="356.2" cy="85.2" rx="15.30" ry="7.14" transform="rotate(-8 356.2 85.2)" fill="#4f87c4"/>
<ellipse cx="356.2" cy="85.2" rx="12.15" ry="5.67" transform="rotate(-8 356.2 85.2)" fill="#4c77a8"/>
<ellipse cx="356.2" cy="85.2" rx="9.00" ry="4.20" transform="rotate(-8 356.2 85.2)" fill="#4a6b92"/></g>
<line x1="286.50" y1="21.00" x2="286.50" y2="183.40" stroke="#303030" stroke-width="1.15" stroke-linecap="butt"/>
<line x1="286.50" y1="182.80" x2="448.20" y2="182.80" stroke="#303030" stroke-width="1.15" stroke-linecap="butt"/>
<line x1="281.50" y1="50.00" x2="286.50" y2="50.00" stroke="#303030" stroke-width="1.15" stroke-linecap="butt"/>
<text x="256.70" y="54.70" font-size="10.25" fill="#262626" stroke="#262626">10<tspan font-size="8" dx="2.3" dy="-4.8">1</tspan></text>
<line x1="281.50" y1="82.60" x2="286.50" y2="82.60" stroke="#303030" stroke-width="1.15" stroke-linecap="butt"/>
<text x="256.70" y="87.30" font-size="10.25" fill="#262626" stroke="#262626">10<tspan font-size="8" dx="2.3" dy="-4.8">0</tspan></text>
<line x1="281.50" y1="115.60" x2="286.50" y2="115.60" stroke="#303030" stroke-width="1.15" stroke-linecap="butt"/>
<text x="256.70" y="120.30" font-size="10.25" fill="#262626" stroke="#262626">10<tspan font-size="8" dx="2.3" dy="-4.8">-1</tspan></text>
<line x1="281.50" y1="148.20" x2="286.50" y2="148.20" stroke="#303030" stroke-width="1.15" stroke-linecap="butt"/>
<text x="256.70" y="152.90" font-size="10.25" fill="#262626" stroke="#262626">10<tspan font-size="8" dx="2.3" dy="-4.8">-2</tspan></text>
<line x1="281.50" y1="181.20" x2="286.50" y2="181.20" stroke="#303030" stroke-width="1.15" stroke-linecap="butt"/>
<line x1="295.30" y1="182.80" x2="295.30" y2="187.80" stroke="#303030" stroke-width="1.15" stroke-linecap="butt"/>
<text x="286.70" y="203.70" font-size="10.25" fill="#262626" stroke="#262626">10<tspan font-size="8" dx="2.3" dy="-4.8">0</tspan></text>
<line x1="328.30" y1="182.80" x2="328.30" y2="187.80" stroke="#303030" stroke-width="1.15" stroke-linecap="butt"/>
<text x="318.70" y="203.70" font-size="10.25" fill="#262626" stroke="#262626">10<tspan font-size="8" dx="2.3" dy="-4.8">1</tspan></text>
<line x1="361.20" y1="182.80" x2="361.20" y2="187.80" stroke="#303030" stroke-width="1.15" stroke-linecap="butt"/>
<text x="349.70" y="203.70" font-size="10.25" fill="#262626" stroke="#262626">10<tspan font-size="8" dx="2.3" dy="-4.8">2</tspan></text>
<line x1="394.10" y1="182.80" x2="394.10" y2="187.80" stroke="#303030" stroke-width="1.15" stroke-linecap="butt"/>
<text x="381.20" y="203.70" font-size="10.25" fill="#262626" stroke="#262626">10<tspan font-size="8" dx="2.3" dy="-4.8">3</tspan></text>
<line x1="427.10" y1="182.80" x2="427.10" y2="187.80" stroke="#303030" stroke-width="1.15" stroke-linecap="butt"/>
<text x="412.50" y="203.70" font-size="10.25" fill="#262626" stroke="#262626">10<tspan font-size="8" dx="2.3" dy="-4.8">4</tspan></text>
<text x="292.90" y="28.00" font-size="10.25" text-anchor="start" fill="#262626" stroke="#262626">1,916 genes</text>
<text x="292.70" y="175.70" font-size="10.25" text-anchor="start" fill="#262626" stroke="#262626">Spearman r = 0.27</text>
<text x="322.50" y="220.70" font-size="10.25" text-anchor="start" fill="#262626" stroke="#262626">k<tspan font-size="8.5" dx="1.9" dy="4.8">syn</tspan><tspan dy="-4.8" dx="3.5">(K562 half 1)</tspan></text>
<text x="249.20" y="162.90" font-size="10.25" text-anchor="start" fill="#262626" stroke="#262626" transform="rotate(-90 249.20 162.90)">Burst size (K562 half 2)</text>
<line x1="427.30" y1="158.40" x2="447.60" y2="158.40" stroke="#000" stroke-width="1.3" stroke-linecap="butt"/>
<text x="432.90" y="155.90" font-size="9.6" text-anchor="start" fill="#262626" stroke="#262626">SD</text>
<text x="431.20" y="171.10" font-size="9.6" text-anchor="start" fill="#262626" stroke="#262626">SD</text>
<line x1="428.50" y1="167.60" x2="428.50" y2="172.00" stroke="#000" stroke-width="1.3" stroke-linecap="butt"/>
<g filter="url(#bl)"><path d="M578.8,55.9 579.6,55.8 580.6,55.8 581.4,55.9 582.4,56.1 583.1,56.3 583.9,56.6 584.6,56.9 585.1,57.2 585.8,57.6 586.4,58.1 586.8,58.6 587.1,59.3 587.3,60.1 587.1,60.9 586.7,61.6 586.2,62.1 585.6,62.4 584.9,62.7 584.1,62.9 583.1,63.0 582.1,63.0 581.2,62.9 580.4,62.7 579.6,62.5 578.9,62.3 578.1,61.9 577.6,61.6 576.9,61.1 576.4,60.7 576.0,60.1 575.6,59.5 575.5,58.6 575.6,57.9 576.1,57.1 576.6,56.7 577.2,56.4 577.9,56.1ZM640.0,63.6 640.9,63.5 641.9,63.5 642.9,63.5 643.9,63.5 644.9,63.6 645.6,63.7 646.4,63.9 647.3,64.1 648.0,64.4 648.6,64.7 649.4,65.0 650.0,65.4 650.6,65.8 651.1,66.1 651.8,66.6 652.4,67.1 652.9,67.5 653.4,68.0 653.9,68.6 654.3,69.1 654.6,69.6 655.1,70.3 655.5,70.9 655.9,71.4 656.4,72.1 656.7,72.6 657.1,73.2 657.5,73.9 657.9,74.5 658.2,75.1 658.5,75.9 658.8,76.6 659.0,77.4 659.3,78.1 659.5,78.9 659.7,79.6 659.9,80.6 660.0,81.4 660.1,82.1 660.2,83.1 660.2,84.1 660.2,85.1 660.2,86.1 660.1,87.1 660.0,87.9 659.8,88.6 659.6,89.4 659.3,90.1 659.0,90.9 658.6,91.6 658.3,92.1 657.9,92.7 657.4,93.3 656.9,93.8 656.4,94.2 655.9,94.6 655.1,95.1 654.6,95.4 653.9,95.7 653.1,96.0 652.4,96.3 651.6,96.6 650.9,96.9 650.3,97.1 649.6,97.4 648.9,97.7 648.1,97.9 647.4,98.1 646.6,98.4 645.7,98.6 644.9,98.8 644.1,99.0 643.4,99.1 642.4,99.3 641.6,99.5 640.8,99.6 639.9,99.8 639.1,100.0 638.3,100.1 637.4,100.3 636.6,100.5 635.8,100.6 634.9,100.7 633.9,100.9 633.1,101.0 632.4,101.2 631.5,101.4 630.7,101.6 630.0,101.9 629.4,102.2 628.7,102.6 628.2,103.1 627.8,103.6 627.4,104.4 627.1,104.9 626.7,105.6 626.4,106.4 626.1,106.9 625.7,107.6 625.3,108.1 624.9,108.7 624.4,109.3 623.9,109.9 623.4,110.4 622.9,110.8 622.4,111.1 621.6,111.6 620.9,111.9 620.1,112.1 619.4,112.2 618.4,112.2 617.5,112.1 616.6,111.9 615.9,111.6 615.4,111.4 614.6,110.9 614.1,110.6 613.4,110.1 612.9,109.7 612.4,109.3 611.8,108.9 611.2,108.4 610.6,107.9 610.1,107.5 609.6,107.1 609.0,106.6 608.4,106.1 607.9,105.7 607.4,105.3 606.8,104.9 606.1,104.4 605.6,104.1 604.9,103.7 604.2,103.4 603.6,103.1 602.8,102.9 601.9,102.7 601.1,102.5 600.3,102.4 599.4,102.3 598.4,102.2 597.6,102.1 596.6,101.9 595.9,101.7 595.1,101.6 594.3,101.4 593.4,101.1 592.6,100.9 591.9,100.7 591.1,100.5 590.4,100.3 589.6,100.1 588.9,99.8 588.1,99.6 587.3,99.4 586.5,99.1 585.7,98.9 585.1,98.6 584.4,98.4 583.6,98.1 582.7,97.9 581.9,97.6 581.1,97.4 580.4,97.2 579.6,97.0 578.9,96.8 578.1,96.6 577.4,96.3 576.6,96.1 575.8,95.9 575.0,95.6 574.2,95.4 573.4,95.1 572.6,94.9 571.9,94.7 571.1,94.5 570.4,94.2 569.6,94.0 568.9,93.8 568.1,93.6 567.4,93.3 566.6,93.0 565.9,92.7 565.1,92.4 564.5,92.1 563.9,91.8 563.1,91.5 562.5,91.1 561.9,90.7 561.4,90.3 560.9,89.8 560.4,89.2 560.0,88.6 559.6,88.0 559.3,87.4 559.1,86.6 558.9,85.6 558.8,84.9 558.8,83.9 558.9,83.1 559.1,82.1 559.3,81.4 559.6,80.6 559.9,79.9 560.1,79.4 560.6,78.6 561.0,78.1 561.5,77.6 562.0,77.1 562.6,76.6 563.1,76.2 563.6,75.8 564.3,75.4 564.9,75.0 565.6,74.6 566.1,74.3 566.9,73.9 567.4,73.6 568.1,73.3 568.9,72.9 569.5,72.6 570.1,72.4 570.9,72.1 571.6,71.9 572.4,71.6 573.3,71.4 574.1,71.2 574.9,71.0 575.6,70.7 576.4,70.5 577.1,70.3 578.0,70.1 578.9,69.9 579.6,69.6 580.3,69.4 581.1,69.1 581.9,68.9 582.6,68.7 583.4,68.4 584.1,68.2 584.9,67.9 585.6,67.7 586.4,67.5 587.1,67.2 587.9,67.0 588.6,66.9 589.6,66.7 590.4,66.5 591.2,66.4 592.1,66.3 593.1,66.2 593.9,66.1 594.9,66.0 595.9,66.0 596.9,66.0 597.9,66.0 598.9,66.0 599.9,66.0 600.9,66.0 601.9,66.0 602.9,66.0 603.9,66.0 604.9,66.0 605.9,66.1 606.6,66.2 607.6,66.2 608.6,66.2 609.6,66.3 610.6,66.3 611.4,66.4 612.4,66.5 613.4,66.5 614.1,66.6 615.1,66.8 615.9,67.0 616.6,67.2 617.5,67.4 618.4,67.5 619.1,67.7 620.1,67.8 620.9,67.9 621.9,68.0 622.9,68.0 623.9,68.0 624.9,68.0 625.9,68.0 626.6,67.8 627.4,67.6 628.1,67.4 628.9,67.1 629.6,66.8 630.4,66.5 631.1,66.2 631.9,65.9 632.6,65.6 633.3,65.4 634.0,65.1 634.8,64.9 635.6,64.6 636.4,64.4 637.1,64.2 637.9,64.0 638.6,63.8Z" fill="#aac9f1"/>
<path d="M635.8,69.4 636.6,69.3 637.6,69.2 638.6,69.2 639.6,69.1 640.6,69.2 641.6,69.3 642.4,69.4 643.4,69.6 644.1,69.8 644.9,70.0 645.6,70.3 646.4,70.6 646.9,70.9 647.6,71.3 648.1,71.6 648.8,72.1 649.4,72.6 649.9,73.1 650.4,73.6 650.8,74.1 651.2,74.6 651.6,75.2 652.1,75.9 652.4,76.4 652.7,77.1 653.1,77.9 653.3,78.6 653.5,79.4 653.7,80.1 653.9,81.1 653.9,81.9 654.0,82.9 653.9,83.9 653.8,84.6 653.6,85.4 653.4,86.1 653.1,86.9 652.7,87.6 652.4,88.2 651.9,88.9 651.5,89.4 651.1,89.9 650.6,90.4 650.0,90.9 649.4,91.4 648.9,91.8 648.4,92.1 647.6,92.6 647.1,92.9 646.4,93.2 645.6,93.6 645.0,93.9 644.4,94.1 643.6,94.4 642.9,94.7 642.1,95.0 641.4,95.2 640.6,95.4 639.9,95.7 639.1,95.9 638.4,96.2 637.6,96.4 636.9,96.7 636.1,96.9 635.4,97.2 634.6,97.4 633.9,97.7 633.1,98.0 632.4,98.3 631.7,98.6 631.1,98.9 630.4,99.2 629.6,99.6 629.1,99.9 628.4,100.3 627.7,100.6 627.1,100.9 626.4,101.3 625.8,101.6 625.1,102.0 624.4,102.3 623.8,102.6 623.1,102.9 622.4,103.2 621.6,103.5 620.9,103.7 620.1,103.9 619.1,104.1 618.4,104.2 617.4,104.3 616.4,104.2 615.4,104.1 614.6,104.0 613.9,103.9 612.9,103.6 612.1,103.4 611.4,103.1 610.7,102.9 610.0,102.6 609.4,102.4 608.6,102.1 607.9,101.8 607.1,101.4 606.4,101.1 605.7,100.9 605.1,100.6 604.4,100.3 603.6,100.0 602.9,99.8 602.1,99.5 601.4,99.2 600.6,99.0 599.9,98.7 599.1,98.5 598.4,98.3 597.6,98.0 596.9,97.8 596.1,97.6 595.3,97.4 594.4,97.1 593.6,96.9 592.9,96.7 592.1,96.5 591.4,96.3 590.6,96.1 589.9,95.8 589.1,95.6 588.2,95.4 587.4,95.1 586.6,94.9 585.9,94.7 585.1,94.5 584.4,94.2 583.6,94.0 582.9,93.8 582.1,93.5 581.4,93.3 580.6,93.0 579.9,92.8 579.1,92.5 578.4,92.3 577.6,92.0 576.9,91.7 576.1,91.4 575.5,91.1 574.9,90.8 574.1,90.5 573.5,90.1 572.9,89.8 572.2,89.4 571.6,88.9 571.1,88.5 570.6,88.1 570.1,87.6 569.6,87.0 569.2,86.4 568.9,85.7 568.6,85.0 568.4,84.1 568.4,83.1 568.6,82.1 568.8,81.4 569.1,80.7 569.4,80.1 569.9,79.5 570.4,78.9 570.9,78.4 571.4,77.9 571.9,77.5 572.4,77.1 573.0,76.6 573.6,76.2 574.1,75.9 574.9,75.4 575.4,75.1 576.1,74.7 576.8,74.4 577.4,74.1 578.1,73.7 578.9,73.4 579.5,73.1 580.1,72.8 580.9,72.5 581.6,72.2 582.4,72.0 583.1,71.7 583.9,71.5 584.6,71.3 585.4,71.1 586.4,70.9 587.1,70.8 587.9,70.6 588.9,70.5 589.9,70.4 590.6,70.3 591.6,70.3 592.6,70.2 593.6,70.2 594.6,70.1 595.6,70.1 596.4,70.1 597.4,70.1 598.4,70.1 599.4,70.1 600.1,70.1 601.1,70.1 602.1,70.2 603.1,70.2 604.1,70.2 605.1,70.3 606.1,70.3 607.1,70.4 607.9,70.4 608.9,70.5 609.9,70.5 610.9,70.6 611.6,70.6 612.6,70.7 613.6,70.8 614.6,70.8 615.4,70.9 616.4,70.9 617.4,71.0 618.4,71.0 619.4,71.0 620.4,71.1 621.4,71.1 622.4,71.0 623.4,71.0 624.4,70.9 625.1,70.9 626.1,70.8 627.1,70.7 627.9,70.6 628.9,70.4 629.6,70.3 630.6,70.2 631.4,70.0 632.4,69.9 633.1,69.8 634.0,69.6 634.9,69.5Z" fill="#97bff0"/>
<path d="M636.8,72.1 637.6,72.1 638.6,72.0 639.6,72.1 640.6,72.1 641.4,72.2 642.2,72.4 643.1,72.6 643.9,72.9 644.6,73.1 645.1,73.4 645.9,73.8 646.4,74.1 647.0,74.6 647.6,75.1 648.1,75.6 648.5,76.1 648.9,76.6 649.4,77.4 649.7,77.9 650.0,78.6 650.3,79.4 650.5,80.1 650.7,80.9 650.8,81.9 650.8,82.9 650.7,83.9 650.5,84.6 650.2,85.4 649.9,86.1 649.6,86.6 649.1,87.3 648.7,87.9 648.2,88.4 647.7,88.9 647.1,89.3 646.6,89.7 645.9,90.1 645.4,90.5 644.6,90.9 644.1,91.1 643.4,91.4 642.6,91.7 641.9,92.0 641.1,92.3 640.4,92.6 639.6,92.8 638.9,93.1 638.1,93.3 637.4,93.5 636.6,93.8 635.9,94.0 635.1,94.3 634.4,94.6 633.6,94.8 632.9,95.1 632.2,95.4 631.6,95.6 630.9,95.9 630.1,96.2 629.4,96.6 628.8,96.9 628.1,97.2 627.4,97.6 626.8,97.9 626.1,98.2 625.4,98.6 624.8,98.9 624.1,99.2 623.4,99.6 622.7,99.9 622.1,100.1 621.4,100.4 620.6,100.6 619.7,100.9 618.9,101.0 618.1,101.1 617.1,101.2 616.1,101.2 615.4,101.1 614.4,100.9 613.6,100.7 612.9,100.5 612.1,100.3 611.4,100.1 610.6,99.8 609.9,99.5 609.1,99.2 608.4,98.9 607.7,98.6 607.0,98.4 606.4,98.1 605.6,97.8 604.9,97.5 604.1,97.3 603.4,97.0 602.6,96.7 601.9,96.5 601.1,96.2 600.4,96.0 599.6,95.7 598.9,95.5 598.1,95.3 597.4,95.1 596.6,94.9 595.8,94.6 594.9,94.4 594.1,94.2 593.4,93.9 592.6,93.7 591.9,93.5 591.1,93.3 590.4,93.1 589.6,92.9 588.8,92.6 587.9,92.4 587.1,92.1 586.4,91.9 585.6,91.7 584.9,91.4 584.1,91.2 583.4,90.9 582.6,90.7 581.9,90.4 581.1,90.2 580.4,89.9 579.7,89.6 579.1,89.4 578.4,89.0 577.6,88.7 577.0,88.4 576.4,88.0 575.7,87.6 575.1,87.2 574.6,86.8 574.1,86.3 573.6,85.7 573.3,85.1 573.0,84.4 572.8,83.6 572.9,82.7 573.1,81.9 573.4,81.3 573.8,80.6 574.3,80.1 574.7,79.6 575.3,79.1 575.9,78.7 576.4,78.3 577.1,77.9 577.6,77.6 578.4,77.2 578.9,76.9 579.6,76.5 580.4,76.2 581.1,75.9 581.7,75.6 582.4,75.4 583.1,75.1 583.9,74.9 584.6,74.6 585.5,74.4 586.4,74.2 587.1,74.0 587.9,73.8 588.9,73.6 589.6,73.5 590.6,73.4 591.4,73.3 592.4,73.2 593.4,73.1 594.1,73.1 595.1,73.0 596.1,73.0 597.1,73.0 598.1,73.0 599.1,72.9 600.1,72.9 601.1,72.9 602.1,73.0 603.1,73.0 604.1,73.0 605.1,73.0 606.1,73.1 606.9,73.1 607.9,73.2 608.9,73.2 609.9,73.3 610.9,73.4 611.6,73.4 612.6,73.5 613.6,73.6 614.6,73.6 615.4,73.7 616.4,73.7 617.4,73.8 618.4,73.8 619.4,73.8 620.4,73.8 621.4,73.8 622.4,73.8 623.4,73.8 624.4,73.7 625.4,73.6 626.1,73.6 627.1,73.5 627.9,73.4 628.9,73.2 629.7,73.1 630.6,73.0 631.4,72.9 632.4,72.7 633.1,72.6 634.1,72.4 634.9,72.3 635.9,72.2Z" fill="#84b7ef"/>
<path d="M634.8,75.1 635.6,75.0 636.6,74.9 637.6,74.9 638.6,74.9 639.6,74.9 640.6,75.1 641.4,75.2 642.1,75.4 642.9,75.7 643.6,76.1 644.1,76.4 644.8,76.9 645.4,77.3 645.9,77.9 646.3,78.4 646.6,78.9 647.0,79.6 647.2,80.4 647.4,81.1 647.5,82.1 647.4,83.1 647.2,83.9 647.0,84.6 646.6,85.2 646.2,85.9 645.8,86.4 645.3,86.9 644.7,87.4 644.1,87.8 643.6,88.1 642.9,88.5 642.2,88.9 641.6,89.1 640.9,89.4 640.1,89.7 639.4,90.0 638.6,90.3 637.9,90.5 637.1,90.8 636.4,91.0 635.6,91.3 634.9,91.5 634.1,91.8 633.4,92.0 632.6,92.3 631.9,92.6 631.1,92.9 630.5,93.1 629.9,93.4 629.1,93.7 628.4,94.0 627.7,94.4 627.1,94.6 626.4,95.0 625.6,95.4 625.1,95.6 624.4,96.0 623.6,96.3 623.0,96.6 622.4,96.9 621.6,97.2 620.9,97.5 620.1,97.7 619.4,97.9 618.4,98.1 617.6,98.2 616.6,98.2 615.6,98.1 614.9,98.0 614.0,97.9 613.1,97.6 612.4,97.4 611.6,97.2 610.9,96.9 610.1,96.7 609.4,96.4 608.7,96.1 608.1,95.9 607.4,95.6 606.6,95.3 605.9,95.0 605.1,94.8 604.4,94.5 603.6,94.2 602.9,94.0 602.1,93.7 601.4,93.5 600.6,93.2 599.9,93.0 599.1,92.8 598.4,92.6 597.6,92.3 596.8,92.1 596.0,91.9 595.1,91.6 594.4,91.4 593.6,91.2 592.9,91.0 592.1,90.8 591.4,90.5 590.6,90.3 589.9,90.1 589.1,89.9 588.4,89.6 587.6,89.4 586.9,89.1 586.1,88.9 585.4,88.6 584.6,88.3 583.9,88.0 583.1,87.7 582.4,87.4 581.9,87.1 581.1,86.7 580.5,86.4 579.9,85.9 579.4,85.5 578.9,85.0 578.4,84.4 578.2,83.6 578.2,82.6 578.5,81.9 578.9,81.4 579.4,80.8 579.9,80.4 580.6,79.9 581.1,79.5 581.8,79.1 582.4,78.8 583.1,78.5 583.9,78.2 584.6,77.9 585.4,77.6 586.1,77.4 586.9,77.2 587.6,77.0 588.4,76.8 589.1,76.6 590.1,76.4 590.9,76.3 591.9,76.2 592.6,76.1 593.6,76.0 594.6,75.9 595.4,75.8 596.4,75.8 597.4,75.7 598.4,75.7 599.4,75.7 600.4,75.7 601.4,75.7 602.4,75.7 603.4,75.7 604.4,75.7 605.4,75.7 606.4,75.8 607.4,75.8 608.1,75.9 609.1,75.9 610.1,76.0 611.1,76.1 612.0,76.1 612.9,76.2 613.9,76.3 614.9,76.3 615.8,76.4 616.6,76.4 617.6,76.5 618.6,76.5 619.6,76.5 620.6,76.5 621.6,76.5 622.6,76.5 623.6,76.5 624.6,76.4 625.4,76.4 626.4,76.3 627.4,76.2 628.1,76.1 629.1,75.9 629.9,75.8 630.9,75.7 631.6,75.6 632.6,75.4 633.4,75.3Z" fill="#71b0ee"/>
<path d="M634.2,78.1 635.1,78.0 636.1,78.0 637.1,77.9 638.1,78.0 639.1,78.1 639.9,78.2 640.6,78.5 641.4,78.8 641.9,79.1 642.4,79.6 642.9,80.1 643.3,80.9 643.5,81.6 643.5,82.6 643.3,83.4 642.9,84.1 642.5,84.6 642.0,85.1 641.4,85.6 640.9,86.0 640.2,86.4 639.6,86.7 638.9,87.0 638.1,87.3 637.4,87.6 636.6,87.9 635.9,88.1 635.2,88.4 634.5,88.6 633.7,88.9 633.0,89.1 632.3,89.4 631.6,89.6 630.9,89.9 630.1,90.2 629.4,90.5 628.6,90.8 628.0,91.1 627.4,91.4 626.6,91.7 625.9,92.1 625.3,92.4 624.6,92.7 623.9,93.0 623.2,93.4 622.6,93.6 621.9,94.0 621.1,94.2 620.4,94.5 619.6,94.7 618.9,94.9 617.9,95.1 617.1,95.1 616.1,95.1 615.4,95.1 614.4,94.9 613.6,94.8 612.9,94.6 612.1,94.3 611.4,94.1 610.6,93.8 609.9,93.6 609.1,93.3 608.4,93.0 607.6,92.7 606.9,92.4 606.1,92.2 605.4,91.9 604.6,91.6 603.9,91.4 603.1,91.1 602.4,90.9 601.6,90.6 600.9,90.4 600.1,90.2 599.4,89.9 598.6,89.7 597.9,89.5 597.1,89.3 596.4,89.0 595.6,88.8 594.9,88.6 594.1,88.3 593.4,88.1 592.6,87.8 591.9,87.6 591.1,87.3 590.4,87.0 589.6,86.7 588.9,86.4 588.3,86.1 587.6,85.8 587.0,85.4 586.4,84.9 585.9,84.5 585.4,83.9 585.3,83.1 585.5,82.4 585.9,81.9 586.5,81.4 587.1,81.0 587.8,80.6 588.4,80.4 589.1,80.1 589.9,79.8 590.6,79.6 591.6,79.4 592.4,79.2 593.1,79.1 594.1,78.9 594.9,78.8 595.9,78.7 596.9,78.6 597.6,78.6 598.6,78.5 599.6,78.5 600.6,78.5 601.6,78.5 602.6,78.5 603.6,78.5 604.6,78.5 605.6,78.5 606.6,78.6 607.6,78.6 608.4,78.6 609.4,78.7 610.4,78.8 611.4,78.8 612.1,78.9 613.1,79.0 614.1,79.0 615.1,79.1 615.9,79.1 616.9,79.2 617.9,79.2 618.9,79.3 619.9,79.3 620.9,79.3 621.9,79.3 622.9,79.3 623.9,79.2 624.9,79.2 625.9,79.1 626.6,79.1 627.6,79.0 628.5,78.9 629.4,78.8 630.4,78.6 631.1,78.5 632.1,78.4 632.9,78.3Z" fill="#5fa9ed"/>
<ellipse cx="639.6" cy="82.0" rx="7.5" ry="6.5" transform="rotate(0 639.6 82.0)" fill="#69adee"/>
<ellipse cx="639.6" cy="82.0" rx="3.6" ry="3.2" transform="rotate(0 639.6 82.0)" fill="#58a5ee"/>
<ellipse cx="608.4" cy="87.4" rx="18.45" ry="8.20" transform="rotate(5 608.4 87.4)" fill="#5499de"/>
<ellipse cx="608.4" cy="87.4" rx="15.30" ry="6.80" transform="rotate(5 608.4 87.4)" fill="#4f87c4"/>
<ellipse cx="608.4" cy="87.4" rx="12.15" ry="5.40" transform="rotate(5 608.4 87.4)" fill="#4c77a8"/>
<ellipse cx="608.4" cy="87.4" rx="9.00" ry="4.00" transform="rotate(5 608.4 87.4)" fill="#4a6b92"/></g>
<line x1="521.30" y1="21.00" x2="521.30" y2="183.40" stroke="#303030" stroke-width="1.15" stroke-linecap="butt"/>
<line x1="521.30" y1="182.80" x2="683.00" y2="182.80" stroke="#303030" stroke-width="1.15" stroke-linecap="butt"/>
<line x1="516.30" y1="28.00" x2="521.30" y2="28.00" stroke="#303030" stroke-width="1.15" stroke-linecap="butt"/>
<line x1="516.30" y1="56.50" x2="521.30" y2="56.50" stroke="#303030" stroke-width="1.15" stroke-linecap="butt"/>
<text x="491.40" y="61.20" font-size="10.25" fill="#262626" stroke="#262626">10<tspan font-size="8" dx="2.3" dy="-4.8">1</tspan></text>
<line x1="516.30" y1="85.10" x2="521.30" y2="85.10" stroke="#303030" stroke-width="1.15" stroke-linecap="butt"/>
<text x="491.40" y="89.80" font-size="10.25" fill="#262626" stroke="#262626">10<tspan font-size="8" dx="2.3" dy="-4.8">0</tspan></text>
<line x1="516.30" y1="113.70" x2="521.30" y2="113.70" stroke="#303030" stroke-width="1.15" stroke-linecap="butt"/>
<text x="491.40" y="118.40" font-size="10.25" fill="#262626" stroke="#262626">10<tspan font-size="8" dx="2.3" dy="-4.8">-1</tspan></text>
<line x1="516.30" y1="142.30" x2="521.30" y2="142.30" stroke="#303030" stroke-width="1.15" stroke-linecap="butt"/>
<text x="491.40" y="147.00" font-size="10.25" fill="#262626" stroke="#262626">10<tspan font-size="8" dx="2.3" dy="-4.8">-2</tspan></text>
<line x1="516.30" y1="170.90" x2="521.30" y2="170.90" stroke="#303030" stroke-width="1.15" stroke-linecap="butt"/>
<line x1="552.80" y1="182.80" x2="552.80" y2="187.80" stroke="#303030" stroke-width="1.15" stroke-linecap="butt"/>
<text x="541.90" y="203.70" font-size="10.25" fill="#262626" stroke="#262626">10<tspan font-size="8" dx="2.3" dy="-4.8">0</tspan></text>
<line x1="581.30" y1="182.80" x2="581.30" y2="187.80" stroke="#303030" stroke-width="1.15" stroke-linecap="butt"/>
<text x="570.40" y="203.70" font-size="10.25" fill="#262626" stroke="#262626">10<tspan font-size="8" dx="2.3" dy="-4.8">1</tspan></text>
<line x1="609.90" y1="182.80" x2="609.90" y2="187.80" stroke="#303030" stroke-width="1.15" stroke-linecap="butt"/>
<text x="599.00" y="203.70" font-size="10.25" fill="#262626" stroke="#262626">10<tspan font-size="8" dx="2.3" dy="-4.8">2</tspan></text>
<line x1="638.50" y1="182.80" x2="638.50" y2="187.80" stroke="#303030" stroke-width="1.15" stroke-linecap="butt"/>
<text x="627.60" y="203.70" font-size="10.25" fill="#262626" stroke="#262626">10<tspan font-size="8" dx="2.3" dy="-4.8">3</tspan></text>
<line x1="667.10" y1="182.80" x2="667.10" y2="187.80" stroke="#303030" stroke-width="1.15" stroke-linecap="butt"/>
<text x="656.20" y="203.70" font-size="10.25" fill="#262626" stroke="#262626">10<tspan font-size="8" dx="2.3" dy="-4.8">4</tspan></text>
<text x="529.00" y="28.00" font-size="10.25" text-anchor="start" fill="#262626" stroke="#262626">1,916 genes</text>
<text x="527.90" y="175.50" font-size="10.25" text-anchor="start" fill="#262626" stroke="#262626">Spearman r = –0.04</text>
<text x="559.90" y="220.70" font-size="10.25" text-anchor="start" fill="#262626" stroke="#262626">k<tspan font-size="8.5" dx="1.9" dy="4.8">off</tspan><tspan dy="-4.8" dx="3.5">(K562 half 1)</tspan></text>
<text x="486.20" y="162.90" font-size="10.25" text-anchor="start" fill="#262626" stroke="#262626" transform="rotate(-90 486.20 162.90)">Burst size (K562 half 2)</text>
<line x1="664.30" y1="158.60" x2="683.20" y2="158.60" stroke="#000" stroke-width="1.3" stroke-linecap="butt"/>
<text x="669.60" y="156.00" font-size="9.6" text-anchor="start" fill="#262626" stroke="#262626">SD</text>
<text x="667.80" y="171.20" font-size="9.6" text-anchor="start" fill="#262626" stroke="#262626">SD</text>
<line x1="664.90" y1="168.20" x2="664.90" y2="171.60" stroke="#000" stroke-width="1.5" stroke-linecap="butt"/>
<g>
<rect x="305.55" y="294.80" width="27.45" height="27.43" fill="#f1dddb"/>
<rect x="332.61" y="294.80" width="27.45" height="27.43" fill="#e9cbc9"/>
<rect x="359.66" y="294.80" width="27.45" height="27.43" fill="#e7c7c5"/>
<rect x="386.72" y="294.80" width="27.45" height="27.43" fill="#e9cbc9"/>
<rect x="413.77" y="294.80" width="27.45" height="27.43" fill="#eacfcd"/>
<rect x="440.83" y="294.80" width="27.45" height="27.43" fill="#eacfcd"/>
<rect x="467.88" y="294.80" width="27.45" height="27.43" fill="#edd5d3"/>
<rect x="494.94" y="294.80" width="27.45" height="27.43" fill="#faf0ef"/>
<rect x="521.99" y="294.80" width="27.45" height="27.43" fill="#faf5f5"/>
<rect x="549.05" y="294.80" width="27.45" height="27.43" fill="#e9e9ed"/>
<rect x="576.10" y="294.80" width="27.45" height="27.43" fill="#f6f3f4"/>
<rect x="603.15" y="294.80" width="27.05" height="27.43" fill="#e1e2e9"/>
<rect x="305.55" y="321.83" width="27.45" height="27.43" fill="#ecd3d2"/>
<rect x="332.61" y="321.83" width="27.45" height="27.43" fill="#bd6361"/>
<rect x="359.66" y="321.83" width="27.45" height="27.43" fill="#bb5e5d"/>
<rect x="386.72" y="321.83" width="27.45" height="27.43" fill="#c77977"/>
<rect x="413.77" y="321.83" width="27.45" height="27.43" fill="#ce8b88"/>
<rect x="440.83" y="321.83" width="27.45" height="27.43" fill="#ce8b88"/>
<rect x="467.88" y="321.83" width="27.45" height="27.43" fill="#d9a5a2"/>
<rect x="494.94" y="321.83" width="27.45" height="27.43" fill="#f5f2f4"/>
<rect x="521.99" y="321.83" width="27.45" height="27.43" fill="#f7eae8"/>
<rect x="549.05" y="321.83" width="27.45" height="27.43" fill="#dfe1e8"/>
<rect x="576.10" y="321.83" width="27.45" height="27.43" fill="#f4e3e2"/>
<rect x="603.15" y="321.83" width="27.05" height="27.43" fill="#bac4d6"/>
<rect x="305.55" y="348.86" width="27.45" height="27.43" fill="#eacdcb"/>
<rect x="332.61" y="348.86" width="27.45" height="27.43" fill="#ba5d5c"/>
<rect x="359.66" y="348.86" width="27.45" height="27.43" fill="#b75756"/>
<rect x="386.72" y="348.86" width="27.45" height="27.43" fill="#c3706e"/>
<rect x="413.77" y="348.86" width="27.45" height="27.43" fill="#ca817e"/>
<rect x="440.83" y="348.86" width="27.45" height="27.43" fill="#ca827f"/>
<rect x="467.88" y="348.86" width="27.45" height="27.43" fill="#d59c99"/>
<rect x="494.94" y="348.86" width="27.45" height="27.43" fill="#f9f5f5"/>
<rect x="521.99" y="348.86" width="27.45" height="27.43" fill="#f7ebea"/>
<rect x="549.05" y="348.86" width="27.45" height="27.43" fill="#d9dce5"/>
<rect x="576.10" y="348.86" width="27.45" height="27.43" fill="#f7eae8"/>
<rect x="603.15" y="348.86" width="27.05" height="27.43" fill="#b2bed3"/>
<rect x="305.55" y="375.89" width="27.45" height="27.43" fill="#eacfcd"/>
<rect x="332.61" y="375.89" width="27.45" height="27.43" fill="#c3726f"/>
<rect x="359.66" y="375.89" width="27.45" height="27.43" fill="#c06a68"/>
<rect x="386.72" y="375.89" width="27.45" height="27.43" fill="#a9393c"/>
<rect x="413.77" y="375.89" width="27.45" height="27.43" fill="#aa3a3e"/>
<rect x="440.83" y="375.89" width="27.45" height="27.43" fill="#ab3c3f"/>
<rect x="467.88" y="375.89" width="27.45" height="27.43" fill="#b1494a"/>
<rect x="494.94" y="375.89" width="27.45" height="27.43" fill="#d39794"/>
<rect x="521.99" y="375.89" width="27.45" height="27.43" fill="#e7c7c5"/>
<rect x="549.05" y="375.89" width="27.45" height="27.43" fill="#edd5d3"/>
<rect x="576.10" y="375.89" width="27.45" height="27.43" fill="#f9efee"/>
<rect x="603.15" y="375.89" width="27.05" height="27.43" fill="#dcdee6"/>
<rect x="305.55" y="402.92" width="27.45" height="27.43" fill="#edd5d3"/>
<rect x="332.61" y="402.92" width="27.45" height="27.43" fill="#ca827f"/>
<rect x="359.66" y="402.92" width="27.45" height="27.43" fill="#c87e7b"/>
<rect x="386.72" y="402.92" width="27.45" height="27.43" fill="#ab3c3f"/>
<rect x="413.77" y="402.92" width="27.45" height="27.43" fill="#a9393c"/>
<rect x="440.83" y="402.92" width="27.45" height="27.43" fill="#a9393c"/>
<rect x="467.88" y="402.92" width="27.45" height="27.43" fill="#ac3f42"/>
<rect x="494.94" y="402.92" width="27.45" height="27.43" fill="#ca817e"/>
<rect x="521.99" y="402.92" width="27.45" height="27.43" fill="#e4c0be"/>
<rect x="549.05" y="402.92" width="27.45" height="27.43" fill="#e4c0be"/>
<rect x="576.10" y="402.92" width="27.45" height="27.43" fill="#faf0ef"/>
<rect x="603.15" y="402.92" width="27.05" height="27.43" fill="#ebeaee"/>
<rect x="305.55" y="429.95" width="27.45" height="27.43" fill="#edd5d3"/>
<rect x="332.61" y="429.95" width="27.45" height="27.43" fill="#ca827f"/>
<rect x="359.66" y="429.95" width="27.45" height="27.43" fill="#c87e7b"/>
<rect x="386.72" y="429.95" width="27.45" height="27.43" fill="#ab3c3f"/>
<rect x="413.77" y="429.95" width="27.45" height="27.43" fill="#a9393c"/>
<rect x="440.83" y="429.95" width="27.45" height="27.43" fill="#a9393c"/>
<rect x="467.88" y="429.95" width="27.45" height="27.43" fill="#ac3f42"/>
<rect x="494.94" y="429.95" width="27.45" height="27.43" fill="#ca817e"/>
<rect x="521.99" y="429.95" width="27.45" height="27.43" fill="#e4c0be"/>
<rect x="549.05" y="429.95" width="27.45" height="27.43" fill="#e4c0be"/>
<rect x="576.10" y="429.95" width="27.45" height="27.43" fill="#faf0ef"/>
<rect x="603.15" y="429.95" width="27.05" height="27.43" fill="#ebeaee"/>
<rect x="305.55" y="456.98" width="27.45" height="27.43" fill="#f0dbda"/>
<rect x="332.61" y="456.98" width="27.45" height="27.43" fill="#d59d9a"/>
<rect x="359.66" y="456.98" width="27.45" height="27.43" fill="#d39794"/>
<rect x="386.72" y="456.98" width="27.45" height="27.43" fill="#b24a4b"/>
<rect x="413.77" y="456.98" width="27.45" height="27.43" fill="#ad4143"/>
<rect x="440.83" y="456.98" width="27.45" height="27.43" fill="#ad4143"/>
<rect x="467.88" y="456.98" width="27.45" height="27.43" fill="#ab3c3f"/>
<rect x="494.94" y="456.98" width="27.45" height="27.43" fill="#c16c6a"/>
<rect x="521.99" y="456.98" width="27.45" height="27.43" fill="#e3bfbd"/>
<rect x="549.05" y="456.98" width="27.45" height="27.43" fill="#deb1ae"/>
<rect x="576.10" y="456.98" width="27.45" height="27.43" fill="#faf4f3"/>
<rect x="603.15" y="456.98" width="27.05" height="27.43" fill="#f7f4f4"/>
<rect x="305.55" y="484.01" width="27.45" height="27.43" fill="#faf5f4"/>
<rect x="332.61" y="484.01" width="27.45" height="27.43" fill="#faf5f4"/>
<rect x="359.66" y="484.01" width="27.45" height="27.43" fill="#faf4f3"/>
<rect x="386.72" y="484.01" width="27.45" height="27.43" fill="#d39794"/>
<rect x="413.77" y="484.01" width="27.45" height="27.43" fill="#cc8582"/>
<rect x="440.83" y="484.01" width="27.45" height="27.43" fill="#cc8582"/>
<rect x="467.88" y="484.01" width="27.45" height="27.43" fill="#c16d6b"/>
<rect x="494.94" y="484.01" width="27.45" height="27.43" fill="#bb5e5d"/>
<rect x="521.99" y="484.01" width="27.45" height="27.43" fill="#e6c5c3"/>
<rect x="549.05" y="484.01" width="27.45" height="27.43" fill="#d59c99"/>
<rect x="576.10" y="484.01" width="27.45" height="27.43" fill="#f7f4f4"/>
<rect x="603.15" y="484.01" width="27.05" height="27.43" fill="#efdad8"/>
<rect x="305.55" y="511.04" width="27.45" height="27.43" fill="#f9f5f5"/>
<rect x="332.61" y="511.04" width="27.45" height="27.43" fill="#f7eae8"/>
<rect x="359.66" y="511.04" width="27.45" height="27.43" fill="#f7ebea"/>
<rect x="386.72" y="511.04" width="27.45" height="27.43" fill="#e7c7c5"/>
<rect x="413.77" y="511.04" width="27.45" height="27.43" fill="#e4c0be"/>
<rect x="440.83" y="511.04" width="27.45" height="27.43" fill="#e4c0be"/>
<rect x="467.88" y="511.04" width="27.45" height="27.43" fill="#e3bfbd"/>
<rect x="494.94" y="511.04" width="27.45" height="27.43" fill="#e7c8c6"/>
<rect x="521.99" y="511.04" width="27.45" height="27.43" fill="#f0dbda"/>
<rect x="549.05" y="511.04" width="27.45" height="27.43" fill="#e7c8c6"/>
<rect x="576.10" y="511.04" width="27.45" height="27.43" fill="#f9eeed"/>
<rect x="603.15" y="511.04" width="27.05" height="27.43" fill="#f7eae8"/>
<rect x="305.55" y="538.07" width="27.45" height="27.43" fill="#e7e7ec"/>
<rect x="332.61" y="538.07" width="27.45" height="27.43" fill="#dcdee6"/>
<rect x="359.66" y="538.07" width="27.45" height="27.43" fill="#d9dce5"/>
<rect x="386.72" y="538.07" width="27.45" height="27.43" fill="#eed7d5"/>
<rect x="413.77" y="538.07" width="27.45" height="27.43" fill="#e5c3c1"/>
<rect x="440.83" y="538.07" width="27.45" height="27.43" fill="#e5c3c1"/>
<rect x="467.88" y="538.07" width="27.45" height="27.43" fill="#deb1ae"/>
<rect x="494.94" y="538.07" width="27.45" height="27.43" fill="#d49a97"/>
<rect x="521.99" y="538.07" width="27.45" height="27.43" fill="#eacdcb"/>
<rect x="549.05" y="538.07" width="27.45" height="27.43" fill="#c57572"/>
<rect x="576.10" y="538.07" width="27.45" height="27.43" fill="#f9efee"/>
<rect x="603.15" y="538.07" width="27.05" height="27.43" fill="#deb2b0"/>
<rect x="305.55" y="565.10" width="27.45" height="27.43" fill="#f6f3f4"/>
<rect x="332.61" y="565.10" width="27.45" height="27.43" fill="#f7eae8"/>
<rect x="359.66" y="565.10" width="27.45" height="27.43" fill="#f9eeed"/>
<rect x="386.72" y="565.10" width="27.45" height="27.43" fill="#faf3f3"/>
<rect x="413.77" y="565.10" width="27.45" height="27.43" fill="#faf4f3"/>
<rect x="440.83" y="565.10" width="27.45" height="27.43" fill="#faf5f4"/>
<rect x="467.88" y="565.10" width="27.45" height="27.43" fill="#f9f5f5"/>
<rect x="494.94" y="565.10" width="27.45" height="27.43" fill="#eeedf0"/>
<rect x="521.99" y="565.10" width="27.45" height="27.43" fill="#faf2f1"/>
<rect x="549.05" y="565.10" width="27.45" height="27.43" fill="#faf3f3"/>
<rect x="576.10" y="565.10" width="27.45" height="27.43" fill="#f6e8e7"/>
<rect x="603.15" y="565.10" width="27.05" height="27.43" fill="#faf4f3"/>
<rect x="305.55" y="592.13" width="27.45" height="27.03" fill="#dadde5"/>
<rect x="332.61" y="592.13" width="27.45" height="27.03" fill="#bbc5d7"/>
<rect x="359.66" y="592.13" width="27.45" height="27.03" fill="#b5c0d4"/>
<rect x="386.72" y="592.13" width="27.45" height="27.03" fill="#dfe1e8"/>
<rect x="413.77" y="592.13" width="27.45" height="27.03" fill="#ebeaee"/>
<rect x="440.83" y="592.13" width="27.45" height="27.03" fill="#ebeaee"/>
<rect x="467.88" y="592.13" width="27.45" height="27.03" fill="#f6f3f4"/>
<rect x="494.94" y="592.13" width="27.45" height="27.03" fill="#f2e0df"/>
<rect x="521.99" y="592.13" width="27.45" height="27.03" fill="#f5e5e4"/>
<rect x="549.05" y="592.13" width="27.45" height="27.03" fill="#ddafad"/>
<rect x="576.10" y="592.13" width="27.45" height="27.03" fill="#f9efee"/>
<rect x="603.15" y="592.13" width="27.05" height="27.03" fill="#a9393c"/>
<rect x="305.55" y="627.20" width="27.45" height="26.40" fill="#f5f5e2"/>
<rect x="332.61" y="627.20" width="27.45" height="26.40" fill="#694242"/>
<rect x="359.66" y="627.20" width="27.45" height="26.40" fill="#664040"/>
<rect x="386.72" y="627.20" width="27.45" height="26.40" fill="#321a1a"/>
<rect x="413.77" y="627.20" width="27.45" height="26.40" fill="#391f1f"/>
<rect x="440.83" y="627.20" width="27.45" height="26.40" fill="#391f1f"/>
<rect x="467.88" y="627.20" width="27.45" height="26.40" fill="#2d1313"/>
<rect x="494.94" y="627.20" width="27.45" height="26.40" fill="#6b4444"/>
<rect x="521.99" y="627.20" width="27.45" height="26.40" fill="#f5f5df"/>
<rect x="549.05" y="627.20" width="27.45" height="26.40" fill="#391f1f"/>
<rect x="576.10" y="627.20" width="27.45" height="26.40" fill="#ffffff"/>
<rect x="603.15" y="627.20" width="26.75" height="26.40" fill="#351d1d"/>
</g>
<g font-size="10.25" text-anchor="middle">
<text x="319.08" y="310.40" fill="#262626" stroke="#262626">0.15</text>
<text x="346.13" y="310.40" fill="#262626" stroke="#262626">0.24</text>
<text x="373.19" y="310.40" fill="#262626" stroke="#262626">0.26</text>
<text x="400.24" y="310.40" fill="#262626" stroke="#262626">0.24</text>
<text x="427.30" y="310.40" fill="#262626" stroke="#262626">0.22</text>
<text x="454.35" y="310.40" fill="#262626" stroke="#262626">0.22</text>
<text x="481.41" y="310.40" fill="#262626" stroke="#262626">0.19</text>
<text x="508.46" y="310.40" fill="#262626" stroke="#262626">0.05</text>
<text x="535.52" y="310.40" fill="#262626" stroke="#262626">-0.01</text>
<text x="535.52" y="317.40" fill="#262626" stroke="#262626">ns</text>
<text x="562.57" y="310.40" fill="#262626" stroke="#262626">-0.12</text>
<text x="589.63" y="310.40" fill="#262626" stroke="#262626">-0.05</text>
<text x="616.68" y="310.40" fill="#262626" stroke="#262626">-0.16</text>
<text x="319.08" y="337.43" fill="#262626" stroke="#262626">0.20</text>
<text x="346.13" y="337.43" fill="#fff" stroke="#fff">0.78</text>
<text x="373.19" y="337.43" fill="#fff" stroke="#fff">0.80</text>
<text x="400.24" y="337.43" fill="#fff" stroke="#fff">0.66</text>
<text x="427.30" y="337.43" fill="#fff" stroke="#fff">0.57</text>
<text x="454.35" y="337.43" fill="#fff" stroke="#fff">0.57</text>
<text x="481.41" y="337.43" fill="#262626" stroke="#262626">0.43</text>
<text x="508.46" y="337.43" fill="#262626" stroke="#262626">-0.06</text>
<text x="535.52" y="337.43" fill="#262626" stroke="#262626">0.09</text>
<text x="562.57" y="337.43" fill="#262626" stroke="#262626">-0.17</text>
<text x="589.63" y="337.43" fill="#262626" stroke="#262626">0.12</text>
<text x="616.68" y="337.43" fill="#262626" stroke="#262626">-0.35</text>
<text x="319.08" y="364.46" fill="#262626" stroke="#262626">0.23</text>
<text x="346.13" y="364.46" fill="#fff" stroke="#fff">0.81</text>
<text x="373.19" y="364.46" fill="#fff" stroke="#fff">0.84</text>
<text x="400.24" y="364.46" fill="#fff" stroke="#fff">0.71</text>
<text x="427.30" y="364.46" fill="#fff" stroke="#fff">0.62</text>
<text x="454.35" y="364.46" fill="#fff" stroke="#fff">0.61</text>
<text x="481.41" y="364.46" fill="#fff" stroke="#fff">0.48</text>
<text x="508.46" y="364.46" fill="#262626" stroke="#262626">-0.02</text>
<text x="508.46" y="371.46" fill="#262626" stroke="#262626">ns</text>
<text x="535.52" y="364.46" fill="#262626" stroke="#262626">0.08</text>
<text x="562.57" y="364.46" fill="#262626" stroke="#262626">-0.20</text>
<text x="589.63" y="364.46" fill="#262626" stroke="#262626">0.09</text>
<text x="616.68" y="364.46" fill="#262626" stroke="#262626">-0.39</text>
<text x="319.08" y="391.49" fill="#262626" stroke="#262626">0.22</text>
<text x="346.13" y="391.49" fill="#fff" stroke="#fff">0.70</text>
<text x="373.19" y="391.49" fill="#fff" stroke="#fff">0.74</text>
<text x="400.24" y="391.49" fill="#fff" stroke="#fff">0.99</text>
<text x="427.30" y="391.49" fill="#fff" stroke="#fff">0.98</text>
<text x="454.35" y="391.49" fill="#fff" stroke="#fff">0.97</text>
<text x="481.41" y="391.49" fill="#fff" stroke="#fff">0.91</text>
<text x="508.46" y="391.49" fill="#fff" stroke="#fff">0.50</text>
<text x="535.52" y="391.49" fill="#262626" stroke="#262626">0.26</text>
<text x="562.57" y="391.49" fill="#262626" stroke="#262626">0.19</text>
<text x="589.63" y="391.49" fill="#262626" stroke="#262626">0.06</text>
<text x="616.68" y="391.49" fill="#262626" stroke="#262626">-0.18</text>
<text x="319.08" y="418.52" fill="#262626" stroke="#262626">0.19</text>
<text x="346.13" y="418.52" fill="#fff" stroke="#fff">0.61</text>
<text x="373.19" y="418.52" fill="#fff" stroke="#fff">0.64</text>
<text x="400.24" y="418.52" fill="#fff" stroke="#fff">0.97</text>
<text x="427.30" y="418.52" fill="#fff" stroke="#fff">0.99</text>
<text x="454.35" y="418.52" fill="#fff" stroke="#fff">0.99</text>
<text x="481.41" y="418.52" fill="#fff" stroke="#fff">0.96</text>
<text x="508.46" y="418.52" fill="#fff" stroke="#fff">0.62</text>
<text x="535.52" y="418.52" fill="#262626" stroke="#262626">0.29</text>
<text x="562.57" y="418.52" fill="#262626" stroke="#262626">0.29</text>
<text x="589.63" y="418.52" fill="#262626" stroke="#262626">0.05</text>
<text x="616.68" y="418.52" fill="#262626" stroke="#262626">-0.11</text>
<text x="319.08" y="445.55" fill="#262626" stroke="#262626">0.19</text>
<text x="346.13" y="445.55" fill="#fff" stroke="#fff">0.61</text>
<text x="373.19" y="445.55" fill="#fff" stroke="#fff">0.64</text>
<text x="400.24" y="445.55" fill="#fff" stroke="#fff">0.97</text>
<text x="427.30" y="445.55" fill="#fff" stroke="#fff">0.99</text>
<text x="454.35" y="445.55" fill="#fff" stroke="#fff">0.99</text>
<text x="481.41" y="445.55" fill="#fff" stroke="#fff">0.96</text>
<text x="508.46" y="445.55" fill="#fff" stroke="#fff">0.62</text>
<text x="535.52" y="445.55" fill="#262626" stroke="#262626">0.29</text>
<text x="562.57" y="445.55" fill="#262626" stroke="#262626">0.29</text>
<text x="589.63" y="445.55" fill="#262626" stroke="#262626">0.05</text>
<text x="616.68" y="445.55" fill="#262626" stroke="#262626">-0.11</text>
<text x="319.08" y="472.58" fill="#262626" stroke="#262626">0.16</text>
<text x="346.13" y="472.58" fill="#262626" stroke="#262626">0.47</text>
<text x="373.19" y="472.58" fill="#fff" stroke="#fff">0.50</text>
<text x="400.24" y="472.58" fill="#fff" stroke="#fff">0.90</text>
<text x="427.30" y="472.58" fill="#fff" stroke="#fff">0.95</text>
<text x="454.35" y="472.58" fill="#fff" stroke="#fff">0.95</text>
<text x="481.41" y="472.58" fill="#fff" stroke="#fff">0.97</text>
<text x="508.46" y="472.58" fill="#fff" stroke="#fff">0.73</text>
<text x="535.52" y="472.58" fill="#262626" stroke="#262626">0.30</text>
<text x="562.57" y="472.58" fill="#262626" stroke="#262626">0.37</text>
<text x="589.63" y="472.58" fill="#262626" stroke="#262626">0.02</text>
<text x="589.63" y="479.58" fill="#262626" stroke="#262626">ns</text>
<text x="616.68" y="472.58" fill="#262626" stroke="#262626">-0.04</text>
<text x="616.68" y="479.58" fill="#262626" stroke="#262626">ns</text>
<text x="319.08" y="499.61" fill="#262626" stroke="#262626">0.01</text>
<text x="319.08" y="506.61" fill="#262626" stroke="#262626">ns</text>
<text x="346.13" y="499.61" fill="#262626" stroke="#262626">-0.00</text>
<text x="346.13" y="506.61" fill="#262626" stroke="#262626">ns</text>
<text x="373.19" y="499.61" fill="#262626" stroke="#262626">0.02</text>
<text x="373.19" y="506.61" fill="#262626" stroke="#262626">ns</text>
<text x="400.24" y="499.61" fill="#fff" stroke="#fff">0.50</text>
<text x="427.30" y="499.61" fill="#fff" stroke="#fff">0.60</text>
<text x="454.35" y="499.61" fill="#fff" stroke="#fff">0.60</text>
<text x="481.41" y="499.61" fill="#fff" stroke="#fff">0.72</text>
<text x="508.46" y="499.61" fill="#fff" stroke="#fff">0.80</text>
<text x="535.52" y="499.61" fill="#262626" stroke="#262626">0.27</text>
<text x="562.57" y="499.61" fill="#fff" stroke="#fff">0.48</text>
<text x="589.63" y="499.61" fill="#262626" stroke="#262626">-0.04</text>
<text x="589.63" y="506.61" fill="#262626" stroke="#262626">ns</text>
<text x="616.68" y="499.61" fill="#262626" stroke="#262626">0.17</text>
<text x="319.08" y="526.64" fill="#262626" stroke="#262626">-0.03</text>
<text x="319.08" y="533.64" fill="#262626" stroke="#262626">ns</text>
<text x="346.13" y="526.64" fill="#262626" stroke="#262626">0.09</text>
<text x="373.19" y="526.64" fill="#262626" stroke="#262626">0.08</text>
<text x="400.24" y="526.64" fill="#262626" stroke="#262626">0.26</text>
<text x="427.30" y="526.64" fill="#262626" stroke="#262626">0.29</text>
<text x="454.35" y="526.64" fill="#262626" stroke="#262626">0.29</text>
<text x="481.41" y="526.64" fill="#262626" stroke="#262626">0.30</text>
<text x="508.46" y="526.64" fill="#262626" stroke="#262626">0.25</text>
<text x="535.52" y="526.64" fill="#262626" stroke="#262626">0.16</text>
<text x="562.57" y="526.64" fill="#262626" stroke="#262626">0.25</text>
<text x="589.63" y="526.64" fill="#262626" stroke="#262626">0.07</text>
<text x="616.68" y="526.64" fill="#262626" stroke="#262626">0.09</text>
<text x="319.08" y="553.67" fill="#262626" stroke="#262626">-0.13</text>
<text x="346.13" y="553.67" fill="#262626" stroke="#262626">-0.18</text>
<text x="373.19" y="553.67" fill="#262626" stroke="#262626">-0.20</text>
<text x="400.24" y="553.67" fill="#262626" stroke="#262626">0.18</text>
<text x="427.30" y="553.67" fill="#262626" stroke="#262626">0.28</text>
<text x="454.35" y="553.67" fill="#262626" stroke="#262626">0.28</text>
<text x="481.41" y="553.67" fill="#262626" stroke="#262626">0.37</text>
<text x="508.46" y="553.67" fill="#fff" stroke="#fff">0.49</text>
<text x="535.52" y="553.67" fill="#262626" stroke="#262626">0.23</text>
<text x="562.57" y="553.67" fill="#fff" stroke="#fff">0.68</text>
<text x="589.63" y="553.67" fill="#262626" stroke="#262626">0.06</text>
<text x="616.68" y="553.67" fill="#262626" stroke="#262626">0.36</text>
<text x="319.08" y="580.70" fill="#262626" stroke="#262626">-0.05</text>
<text x="346.13" y="580.70" fill="#262626" stroke="#262626">0.09</text>
<text x="373.19" y="580.70" fill="#262626" stroke="#262626">0.07</text>
<text x="400.24" y="580.70" fill="#262626" stroke="#262626">0.03</text>
<text x="400.24" y="587.70" fill="#262626" stroke="#262626">ns</text>
<text x="427.30" y="580.70" fill="#262626" stroke="#262626">0.02</text>
<text x="427.30" y="587.70" fill="#262626" stroke="#262626">ns</text>
<text x="454.35" y="580.70" fill="#262626" stroke="#262626">0.01</text>
<text x="454.35" y="587.70" fill="#262626" stroke="#262626">ns</text>
<text x="481.41" y="580.70" fill="#262626" stroke="#262626">-0.02</text>
<text x="481.41" y="587.70" fill="#262626" stroke="#262626">ns</text>
<text x="508.46" y="580.70" fill="#262626" stroke="#262626">-0.10</text>
<text x="535.52" y="580.70" fill="#262626" stroke="#262626">0.04</text>
<text x="535.52" y="587.70" fill="#262626" stroke="#262626">ns</text>
<text x="562.57" y="580.70" fill="#262626" stroke="#262626">0.03</text>
<text x="562.57" y="587.70" fill="#262626" stroke="#262626">ns</text>
<text x="589.63" y="580.70" fill="#262626" stroke="#262626">0.10</text>
<text x="616.68" y="580.70" fill="#262626" stroke="#262626">0.02</text>
<text x="616.68" y="587.70" fill="#262626" stroke="#262626">ns</text>
<text x="319.08" y="607.73" fill="#262626" stroke="#262626">-0.19</text>
<text x="346.13" y="607.73" fill="#262626" stroke="#262626">-0.34</text>
<text x="373.19" y="607.73" fill="#262626" stroke="#262626">-0.37</text>
<text x="400.24" y="607.73" fill="#262626" stroke="#262626">-0.17</text>
<text x="427.30" y="607.73" fill="#262626" stroke="#262626">-0.11</text>
<text x="454.35" y="607.73" fill="#262626" stroke="#262626">-0.11</text>
<text x="481.41" y="607.73" fill="#262626" stroke="#262626">-0.05</text>
<text x="508.46" y="607.73" fill="#262626" stroke="#262626">0.14</text>
<text x="535.52" y="607.73" fill="#262626" stroke="#262626">0.11</text>
<text x="562.57" y="607.73" fill="#262626" stroke="#262626">0.38</text>
<text x="589.63" y="607.73" fill="#262626" stroke="#262626">0.06</text>
<text x="616.68" y="607.73" fill="#fff" stroke="#fff">0.99</text>
<text x="319.08" y="642.90" fill="#262626" stroke="#262626">3.99</text>
<text x="346.13" y="642.90" fill="#fff" stroke="#fff">1.35</text>
<text x="373.19" y="642.90" fill="#fff" stroke="#fff">1.32</text>
<text x="400.24" y="642.90" fill="#fff" stroke="#fff">1.06</text>
<text x="427.30" y="642.90" fill="#fff" stroke="#fff">1.08</text>
<text x="454.35" y="642.90" fill="#fff" stroke="#fff">1.08</text>
<text x="481.41" y="642.90" fill="#fff" stroke="#fff">1.05</text>
<text x="508.46" y="642.90" fill="#fff" stroke="#fff">1.36</text>
<text x="535.52" y="642.90" fill="#262626" stroke="#262626">3.97</text>
<text x="562.57" y="642.90" fill="#fff" stroke="#fff">1.08</text>
<text x="589.63" y="642.90" fill="#262626" stroke="#262626">4.37</text>
<text x="616.68" y="642.90" fill="#fff" stroke="#fff">1.07</text>
</g>
<rect x="305.55" y="294.80" width="27.05" height="27.03" fill="none" stroke="#000" stroke-width="2.15"/>
<rect x="332.61" y="321.83" width="27.05" height="27.03" fill="none" stroke="#000" stroke-width="2.15"/>
<rect x="359.66" y="348.86" width="27.05" height="27.03" fill="none" stroke="#000" stroke-width="2.15"/>
<rect x="386.72" y="375.89" width="27.05" height="27.03" fill="none" stroke="#000" stroke-width="2.15"/>
<rect x="413.77" y="402.92" width="27.05" height="27.03" fill="none" stroke="#000" stroke-width="2.15"/>
<rect x="440.83" y="429.95" width="27.05" height="27.03" fill="none" stroke="#000" stroke-width="2.15"/>
<rect x="467.88" y="456.98" width="27.05" height="27.03" fill="none" stroke="#000" stroke-width="2.15"/>
<rect x="494.94" y="484.01" width="27.05" height="27.03" fill="none" stroke="#000" stroke-width="2.15"/>
<rect x="521.99" y="511.04" width="27.05" height="27.03" fill="none" stroke="#000" stroke-width="2.15"/>
<rect x="549.05" y="538.07" width="27.05" height="27.03" fill="none" stroke="#000" stroke-width="2.15"/>
<rect x="576.10" y="565.10" width="27.05" height="27.03" fill="none" stroke="#000" stroke-width="2.15"/>
<rect x="603.15" y="592.13" width="27.05" height="27.03" fill="none" stroke="#000" stroke-width="2.15"/>
<text x="302.80" y="312.60" font-size="10.25" text-anchor="end" fill="#262626" stroke="#262626">Mean occupancy</text>
<text x="302.80" y="339.71" font-size="10.25" text-anchor="end" fill="#262626" stroke="#262626">Burst frequency</text>
<text x="302.80" y="366.82" font-size="10.25" text-anchor="end" fill="#262626" stroke="#262626">Fraction expressing cells</text>
<text x="302.80" y="393.93" font-size="10.25" text-anchor="end" fill="#262626" stroke="#262626">k<tspan font-size="8.5" dx="0.3" dy="4">on</tspan></text>
<text x="302.80" y="421.04" font-size="10.25" text-anchor="end" fill="#262626" stroke="#262626">Average expression</text>
<text x="302.80" y="448.15" font-size="10.25" text-anchor="end" fill="#262626" stroke="#262626">Expression rate</text>
<text x="302.80" y="475.26" font-size="10.25" text-anchor="end" fill="#262626" stroke="#262626">Average count in expressing cells</text>
<text x="302.80" y="502.37" font-size="10.25" text-anchor="end" fill="#262626" stroke="#262626">Burst size</text>
<text x="302.80" y="529.48" font-size="10.25" text-anchor="end" fill="#262626" stroke="#262626">k<tspan font-size="8.5" dx="0.3" dy="4">syn</tspan></text>
<text x="302.80" y="556.59" font-size="10.25" text-anchor="end" fill="#262626" stroke="#262626">Coefficient of variation in expressing cells</text>
<text x="302.80" y="583.70" font-size="10.25" text-anchor="end" fill="#262626" stroke="#262626">k<tspan font-size="8.5" dx="0.3" dy="4">off</tspan></text>
<text x="302.80" y="610.81" font-size="10.25" text-anchor="end" fill="#262626" stroke="#262626">k<tspan font-size="8.5" dx="0.3" dy="4">d</tspan><tspan dy="-4" dx="2.6">(degradation rate)</tspan></text>
<text x="302.80" y="645.10" font-size="10.25" text-anchor="end" fill="#262626" stroke="#262626">Geometric standard deviation</text>
<text x="322.78" y="656.60" font-size="10.25" text-anchor="end" fill="#262626" stroke="#262626" transform="rotate(-90 322.78 656.60)">Mean occupancy</text>
<text x="349.83" y="656.60" font-size="10.25" text-anchor="end" fill="#262626" stroke="#262626" transform="rotate(-90 349.83 656.60)">Burst frequency</text>
<text x="376.89" y="656.60" font-size="10.25" text-anchor="end" fill="#262626" stroke="#262626" transform="rotate(-90 376.89 656.60)">Fraction expr. cells</text>
<text x="402.04" y="657.60" font-size="10.25" text-anchor="end" fill="#262626" stroke="#262626" transform="rotate(-90 402.04 657.60)">k<tspan font-size="8.5" dx="0.3" dy="4">on</tspan></text>
<text x="431.00" y="656.60" font-size="10.25" text-anchor="end" fill="#262626" stroke="#262626" transform="rotate(-90 431.00 656.60)">Avg. expression</text>
<text x="458.05" y="656.60" font-size="10.25" text-anchor="end" fill="#262626" stroke="#262626" transform="rotate(-90 458.05 656.60)">Expression rate</text>
<text x="485.11" y="656.60" font-size="10.25" text-anchor="end" fill="#262626" stroke="#262626" transform="rotate(-90 485.11 656.60)">Avg. count in expr. cells</text>
<text x="512.16" y="656.60" font-size="10.25" text-anchor="end" fill="#262626" stroke="#262626" transform="rotate(-90 512.16 656.60)">Burst size</text>
<text x="537.32" y="657.60" font-size="10.25" text-anchor="end" fill="#262626" stroke="#262626" transform="rotate(-90 537.32 657.60)">k<tspan font-size="8.5" dx="0.3" dy="4">syn</tspan></text>
<text x="566.27" y="656.60" font-size="10.25" text-anchor="end" fill="#262626" stroke="#262626" transform="rotate(-90 566.27 656.60)">CV in expr. cells</text>
<text x="591.43" y="657.60" font-size="10.25" text-anchor="end" fill="#262626" stroke="#262626" transform="rotate(-90 591.43 657.60)">k<tspan font-size="8.5" dx="0.3" dy="4">off</tspan></text>
<text x="618.48" y="657.60" font-size="10.25" text-anchor="end" fill="#262626" stroke="#262626" transform="rotate(-90 618.48 657.60)">k<tspan font-size="8.5" dx="0.3" dy="4">d</tspan></text>
<text x="71.70" y="464.90" font-size="10.25" text-anchor="middle" fill="#000" stroke="#000" font-weight="bold" transform="rotate(-90 71.70 464.90)">Data half 2 (K562, 307 cells)</text>
<text x="367.10" y="789.70" font-size="10.25" text-anchor="middle" fill="#000" stroke="#000" font-weight="bold">Data half 1 (K562, 306 cells)</text>
<defs><linearGradient id="vl" x1="0" x2="1" y1="0" y2="0"><stop offset="0.000" stop-color="#2369bd"/><stop offset="0.050" stop-color="#4276bc"/><stop offset="0.100" stop-color="#5b84bd"/><stop offset="0.150" stop-color="#7192c0"/><stop offset="0.200" stop-color="#87a0c4"/><stop offset="0.250" stop-color="#9baecb"/><stop offset="0.300" stop-color="#afbcd1"/><stop offset="0.350" stop-color="#c3cbda"/><stop offset="0.400" stop-color="#d9dce5"/><stop offset="0.450" stop-color="#eeedf0"/><stop offset="0.500" stop-color="#faf5f4"/><stop offset="0.550" stop-color="#f6e8e7"/><stop offset="0.600" stop-color="#ecd3d2"/><stop offset="0.650" stop-color="#e3bfbd"/><stop offset="0.700" stop-color="#dbaba8"/><stop offset="0.750" stop-color="#d39794"/><stop offset="0.800" stop-color="#cc8582"/><stop offset="0.850" stop-color="#c3726f"/><stop offset="0.900" stop-color="#bb5e5d"/><stop offset="0.950" stop-color="#b24a4b"/><stop offset="1.000" stop-color="#a9373b"/></linearGradient></defs>
<rect x="83.70" y="715.00" width="186.90" height="8.90" fill="url(#vl)"/>
<line x1="84.00" y1="711.20" x2="84.00" y2="715.20" stroke="#303030" stroke-width="1.15" stroke-linecap="butt"/>
<text x="82.10" y="708.90" font-size="10.25" text-anchor="middle" fill="#262626" stroke="#262626"><tspan>−</tspan><tspan dx="1.6">1.0</tspan></text>
<line x1="107.33" y1="711.20" x2="107.33" y2="715.20" stroke="#303030" stroke-width="1.15" stroke-linecap="butt"/>
<line x1="130.65" y1="711.20" x2="130.65" y2="715.20" stroke="#303030" stroke-width="1.15" stroke-linecap="butt"/>
<text x="128.75" y="708.90" font-size="10.25" text-anchor="middle" fill="#262626" stroke="#262626"><tspan>−</tspan><tspan dx="1.6">0.5</tspan></text>
<line x1="153.98" y1="711.20" x2="153.98" y2="715.20" stroke="#303030" stroke-width="1.15" stroke-linecap="butt"/>
<line x1="177.30" y1="711.20" x2="177.30" y2="715.20" stroke="#303030" stroke-width="1.15" stroke-linecap="butt"/>
<text x="176.30" y="708.90" font-size="10.25" text-anchor="middle" fill="#262626" stroke="#262626">0.0</text>
<line x1="200.62" y1="711.20" x2="200.62" y2="715.20" stroke="#303030" stroke-width="1.15" stroke-linecap="butt"/>
<line x1="223.95" y1="711.20" x2="223.95" y2="715.20" stroke="#303030" stroke-width="1.15" stroke-linecap="butt"/>
<text x="221.95" y="708.90" font-size="10.25" text-anchor="middle" fill="#262626" stroke="#262626">0.5</text>
<line x1="247.28" y1="711.20" x2="247.28" y2="715.20" stroke="#303030" stroke-width="1.15" stroke-linecap="butt"/>
<line x1="270.60" y1="711.20" x2="270.60" y2="715.20" stroke="#303030" stroke-width="1.15" stroke-linecap="butt"/>
<text x="268.60" y="708.90" font-size="10.25" text-anchor="middle" fill="#262626" stroke="#262626">1.0</text>
<text x="141.00" y="693.40" font-size="10.25" text-anchor="start" fill="#262626" stroke="#262626">Spearman correlation</text>
<text x="81.00" y="744.30" font-size="10.25" text-anchor="start" fill="#262626" stroke="#262626">1,916 genes (k<tspan font-size="8.5" dx="0.3" dy="3.6">on</tspan><tspan dy="-3.6" dx="3.8">and burst size controlled)</tspan></text>
</svg>
</body></html>
